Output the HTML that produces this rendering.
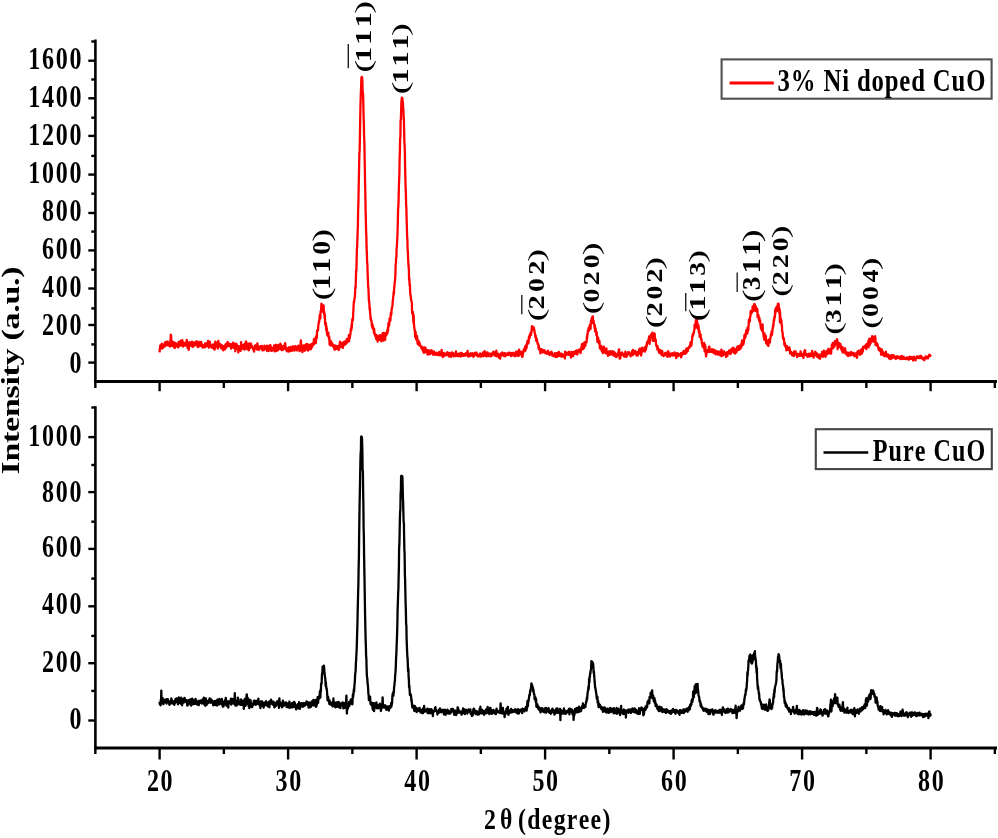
<!DOCTYPE html>
<html><head><meta charset="utf-8"><style>
html,body{margin:0;padding:0;background:#fff;}
svg{display:block;}
text{font-family:"Liberation Serif","Times New Roman",serif;font-weight:bold;font-kerning:none;}
</style></head><body>
<svg width="998" height="838" viewBox="0 0 998 838">
<rect width="998" height="838" fill="#fff"/>
<path d="M159.6,352.4 159.8,348.6 160.1,348.3 160.3,345.4 160.6,346.3 160.8,346.3 161.1,348.0 161.3,346.4 161.6,347.6 161.8,343.6 162.1,348.7 162.3,346.5 162.6,347.6 162.8,346.6 163.1,346.2 163.3,347.4 163.6,347.5 163.8,344.6 164.1,345.1 164.3,346.3 164.6,344.3 164.8,342.9 165.1,346.2 165.3,344.9 165.6,341.8 165.8,342.9 166.1,344.4 166.3,344.4 166.6,344.2 166.8,344.9 167.1,345.3 167.3,342.3 167.6,341.5 167.8,343.0 168.1,344.7 168.3,343.0 168.6,344.3 168.8,345.7 169.1,343.1 169.3,342.6 169.6,344.5 169.8,344.6 170.1,346.7 170.3,341.2 170.6,338.4 170.8,334.6 171.1,335.5 171.3,341.8 171.6,341.9 171.8,340.8 172.1,345.7 172.3,344.9 172.6,344.9 172.8,344.6 173.1,346.3 173.3,342.1 173.6,344.8 173.8,344.8 174.1,342.4 174.3,347.3 174.6,347.9 174.8,348.0 175.1,344.6 175.3,343.4 175.6,344.3 175.8,343.1 176.1,345.3 176.3,344.4 176.6,345.6 176.8,344.5 177.1,346.7 177.3,345.4 177.6,344.4 177.8,345.3 178.1,347.0 178.3,347.4 178.6,341.9 178.8,346.5 179.1,345.6 179.3,344.3 179.6,341.9 179.8,345.6 180.1,341.5 180.3,343.7 180.6,344.8 180.8,340.7 181.1,342.9 181.3,341.2 181.6,343.6 181.8,345.3 182.1,345.8 182.3,340.2 182.6,342.4 182.8,345.1 183.1,346.5 183.3,345.0 183.6,342.7 183.8,344.6 184.1,344.4 184.3,343.9 184.6,343.4 184.8,345.3 185.1,345.5 185.3,344.8 185.6,344.2 185.8,342.4 186.1,342.7 186.3,344.6 186.6,342.1 186.8,339.9 187.1,345.5 187.3,344.4 187.6,348.1 187.8,344.4 188.1,342.7 188.3,342.6 188.6,347.8 188.8,349.8 189.1,343.8 189.3,343.8 189.6,345.4 189.8,342.2 190.1,343.1 190.3,342.7 190.6,343.4 190.8,345.3 191.1,343.7 191.3,346.0 191.6,344.3 191.8,345.8 192.1,341.7 192.3,342.2 192.6,346.9 192.8,344.4 193.1,345.3 193.3,345.4 193.6,346.4 193.8,345.9 194.1,345.5 194.3,343.4 194.6,342.4 194.8,342.8 195.1,343.7 195.3,342.9 195.6,343.9 195.8,344.3 196.1,345.1 196.3,343.4 196.6,341.2 196.8,344.0 197.1,344.6 197.3,346.3 197.6,345.8 197.8,342.7 198.1,342.6 198.3,347.2 198.6,344.9 198.8,345.9 199.1,345.8 199.3,342.0 199.6,344.6 199.8,344.7 200.1,344.8 200.3,345.9 200.6,345.8 200.8,345.4 201.1,341.8 201.3,344.1 201.6,343.6 201.8,345.1 202.1,344.7 202.3,347.0 202.6,347.6 202.8,347.0 203.1,347.1 203.3,346.1 203.6,345.4 203.8,345.6 204.1,345.4 204.3,346.5 204.6,345.8 204.8,347.3 205.1,343.4 205.3,346.7 205.6,344.4 205.8,346.5 206.1,346.3 206.3,344.4 206.6,346.0 206.8,344.6 207.1,343.4 207.3,342.6 207.6,345.5 207.8,343.3 208.1,340.9 208.3,343.4 208.6,341.6 208.8,347.8 209.1,341.9 209.3,345.2 209.6,345.7 209.8,341.7 210.1,343.7 210.3,345.5 210.6,345.4 210.8,345.0 211.1,346.7 211.3,346.3 211.6,347.5 211.8,346.1 212.1,347.4 212.3,345.5 212.6,347.8 212.8,345.3 213.1,344.4 213.3,345.7 213.6,347.7 213.8,346.9 214.1,345.5 214.3,349.5 214.6,349.5 214.8,348.0 215.1,345.4 215.3,341.6 215.6,345.9 215.8,343.8 216.1,344.6 216.3,342.7 216.6,342.7 216.8,343.8 217.1,346.1 217.3,347.5 217.6,345.6 217.8,348.6 218.1,345.4 218.3,340.9 218.6,344.8 218.8,345.5 219.1,343.9 219.3,345.8 219.6,346.5 219.8,345.3 220.1,344.0 220.3,345.9 220.6,345.8 220.8,345.1 221.1,347.5 221.3,348.4 221.6,345.0 221.8,347.3 222.1,347.4 222.3,347.0 222.6,347.9 222.8,346.1 223.1,348.2 223.3,350.3 223.6,348.8 223.8,346.2 224.1,347.6 224.3,347.6 224.6,347.6 224.8,346.1 225.1,349.3 225.3,344.7 225.6,347.5 225.8,346.4 226.1,344.0 226.3,347.7 226.6,346.6 226.8,343.9 227.1,345.9 227.3,343.6 227.6,342.0 227.8,343.6 228.1,345.1 228.3,345.9 228.6,343.3 228.8,346.0 229.1,345.8 229.3,344.0 229.6,346.2 229.8,344.9 230.1,345.2 230.3,346.2 230.6,343.9 230.8,345.3 231.1,348.7 231.3,346.6 231.6,345.5 231.8,346.4 232.1,345.3 232.3,345.9 232.6,343.9 232.8,345.4 233.1,342.6 233.3,347.8 233.6,344.7 233.8,343.6 234.1,346.2 234.3,345.8 234.6,346.4 234.8,344.9 235.1,346.4 235.3,351.3 235.6,343.6 235.8,346.5 236.1,346.0 236.3,346.9 236.6,344.2 236.8,344.8 237.1,347.8 237.3,346.8 237.6,349.2 237.8,346.0 238.1,347.4 238.3,352.5 238.6,346.1 238.8,346.3 239.1,348.1 239.3,347.4 239.6,349.2 239.8,347.5 240.1,346.7 240.3,347.4 240.6,350.8 240.8,348.8 241.1,342.1 241.3,346.6 241.6,345.1 241.8,347.1 242.1,345.4 242.3,348.6 242.6,347.5 242.8,346.8 243.1,345.2 243.3,346.0 243.6,347.1 243.8,349.1 244.1,344.4 244.3,346.7 244.6,349.7 244.8,347.0 245.1,346.2 245.3,343.5 245.6,342.8 245.8,342.6 246.1,341.4 246.3,347.8 246.6,348.2 246.8,347.3 247.1,349.1 247.3,348.0 247.6,347.7 247.8,343.7 248.1,346.8 248.3,347.7 248.6,349.9 248.8,350.2 249.1,350.0 249.3,345.7 249.6,343.5 249.8,347.5 250.1,346.4 250.3,347.9 250.6,346.0 250.8,346.5 251.1,343.7 251.3,347.0 251.6,345.7 251.8,347.1 252.1,346.9 252.3,346.1 252.6,347.4 252.8,347.4 253.1,349.5 253.3,349.5 253.6,348.5 253.8,348.2 254.1,351.6 254.3,348.4 254.6,349.5 254.8,348.4 255.1,345.9 255.3,345.3 255.6,346.7 255.8,347.4 256.1,348.3 256.4,345.6 256.6,346.4 256.9,347.7 257.1,349.7 257.4,343.4 257.6,347.1 257.9,345.3 258.1,347.4 258.4,346.4 258.6,348.0 258.9,349.8 259.1,347.9 259.4,348.6 259.6,349.0 259.9,347.0 260.1,348.4 260.4,347.3 260.6,346.2 260.9,346.5 261.1,346.4 261.4,347.7 261.6,346.8 261.9,345.9 262.1,349.5 262.4,350.0 262.6,350.4 262.9,349.8 263.1,348.5 263.4,348.4 263.6,348.4 263.9,350.1 264.1,348.7 264.4,345.7 264.6,348.3 264.9,346.8 265.1,348.8 265.4,346.5 265.6,346.5 265.9,348.9 266.1,348.9 266.4,346.6 266.6,349.4 266.9,350.8 267.1,345.6 267.4,350.6 267.6,346.9 267.9,347.3 268.1,348.6 268.4,347.0 268.6,351.1 268.9,349.5 269.1,347.3 269.4,347.7 269.6,345.4 269.9,347.3 270.1,349.0 270.4,345.1 270.6,346.7 270.9,348.4 271.1,350.4 271.4,350.9 271.6,347.8 271.9,347.7 272.1,349.4 272.4,347.9 272.6,347.9 272.9,349.9 273.1,350.5 273.4,348.6 273.6,348.4 273.9,349.8 274.1,345.4 274.4,347.9 274.6,346.7 274.9,351.5 275.1,349.2 275.4,348.0 275.6,348.0 275.9,345.0 276.1,350.0 276.4,350.8 276.6,344.9 276.9,349.1 277.1,349.2 277.4,346.1 277.6,349.0 277.9,350.3 278.1,348.2 278.4,347.6 278.6,348.7 278.9,344.8 279.1,347.5 279.4,348.6 279.6,345.6 279.9,349.0 280.1,346.6 280.4,343.7 280.6,346.2 280.9,344.8 281.1,346.6 281.4,345.9 281.6,350.2 281.9,348.3 282.1,350.1 282.4,348.7 282.6,348.9 282.9,349.9 283.1,348.4 283.4,347.7 283.6,346.0 283.9,348.9 284.1,348.6 284.4,346.7 284.6,347.6 284.9,343.9 285.1,343.1 285.4,345.7 285.6,348.5 285.9,349.5 286.1,347.7 286.4,350.6 286.6,350.8 286.9,349.6 287.1,351.4 287.4,349.1 287.6,349.3 287.9,349.9 288.1,348.7 288.4,350.2 288.6,347.3 288.9,351.6 289.1,349.0 289.4,349.5 289.6,347.6 289.9,350.4 290.1,351.1 290.4,350.2 290.6,350.1 290.9,346.8 291.1,348.5 291.4,348.6 291.6,347.9 291.9,350.9 292.1,348.8 292.4,348.3 292.6,348.4 292.9,346.4 293.1,347.0 293.4,347.4 293.6,349.3 293.9,349.0 294.1,349.6 294.4,350.6 294.6,346.3 294.9,347.5 295.1,349.8 295.4,346.1 295.6,347.6 295.9,349.0 296.1,349.2 296.4,349.2 296.6,348.0 296.9,347.6 297.1,350.5 297.4,346.7 297.6,347.4 297.9,348.5 298.1,345.9 298.4,345.7 298.6,346.8 298.9,348.5 299.1,348.2 299.4,347.6 299.6,351.1 299.9,350.6 300.1,348.6 300.4,346.5 300.6,343.2 300.9,340.5 301.1,343.9 301.4,347.0 301.6,348.9 301.9,348.4 302.1,350.0 302.4,352.2 302.6,348.5 302.9,350.6 303.1,348.4 303.4,345.5 303.6,347.2 303.9,346.2 304.1,349.3 304.4,346.6 304.6,350.8 304.9,350.0 305.1,345.2 305.4,348.7 305.6,350.0 305.9,346.1 306.1,347.8 306.4,344.0 306.6,347.6 306.9,345.4 307.1,348.8 307.4,345.0 307.6,344.1 307.9,348.1 308.1,350.6 308.4,345.5 308.6,347.4 308.9,346.8 309.1,345.7 309.4,347.6 309.6,349.4 309.9,344.8 310.1,347.7 310.4,346.7 310.6,344.5 310.9,348.9 311.1,349.0 311.4,344.5 311.6,347.9 311.9,344.7 312.1,343.6 312.4,346.3 312.6,344.2 312.9,343.1 313.1,344.9 313.4,344.8 313.6,344.1 313.9,339.4 314.1,338.9 314.4,343.9 314.6,340.6 314.9,341.5 315.1,339.1 315.4,340.3 315.6,337.9 315.9,343.0 316.1,336.3 316.4,337.3 316.6,335.4 316.9,337.9 317.1,330.4 317.4,331.2 317.6,330.3 317.9,330.5 318.1,328.8 318.4,324.3 318.6,324.2 318.9,321.4 319.1,322.3 319.4,319.5 319.6,317.0 319.9,314.7 320.1,315.0 320.4,318.4 320.6,311.2 320.9,311.9 321.1,311.3 321.4,303.7 321.6,303.9 321.9,305.7 322.1,305.1 322.4,310.6 322.6,308.7 322.9,311.8 323.1,308.3 323.4,305.4 323.6,305.5 323.9,312.9 324.1,314.0 324.4,312.2 324.6,318.0 324.9,315.0 325.1,323.0 325.4,324.9 325.6,322.8 325.9,323.2 326.1,329.3 326.4,326.1 326.6,331.5 326.9,328.7 327.1,334.8 327.4,333.7 327.6,333.9 327.9,333.4 328.1,336.1 328.4,332.7 328.6,336.7 328.9,337.2 329.1,339.6 329.4,337.2 329.6,344.7 329.9,342.7 330.1,340.7 330.4,344.5 330.6,345.4 330.9,341.9 331.1,341.3 331.4,343.5 331.6,342.5 331.9,342.9 332.1,345.6 332.4,344.3 332.6,344.1 332.9,345.5 333.1,345.3 333.4,346.9 333.6,347.5 333.9,345.4 334.1,346.5 334.4,349.5 334.6,346.3 334.9,345.6 335.1,349.5 335.4,347.3 335.6,345.7 335.9,348.8 336.1,345.9 336.4,346.7 336.6,347.7 336.9,348.2 337.1,348.8 337.4,347.7 337.6,346.2 337.9,348.8 338.1,346.1 338.4,346.5 338.6,350.1 338.9,346.3 339.1,349.1 339.4,347.9 339.6,345.1 339.9,341.7 340.1,344.3 340.4,344.8 340.6,346.0 340.9,345.2 341.1,346.3 341.4,346.6 341.6,342.8 341.9,347.1 342.1,345.5 342.4,344.3 342.6,344.8 342.9,347.9 343.1,346.4 343.4,342.2 343.6,345.1 343.9,344.5 344.1,344.7 344.4,343.7 344.6,341.6 344.9,344.8 345.1,341.6 345.4,342.4 345.6,341.6 345.9,341.3 346.1,343.7 346.4,343.0 346.6,340.1 346.9,338.8 347.1,339.0 347.4,342.3 347.6,340.9 347.9,341.1 348.1,340.7 348.4,340.5 348.6,340.8 348.9,335.1 349.1,341.3 349.4,335.4 349.6,334.9 349.9,337.8 350.1,335.0 350.4,334.2 350.6,331.9 350.9,328.6 351.1,330.3 351.4,329.8 351.6,324.2 351.9,327.5 352.1,321.5 352.4,319.0 352.6,321.0 352.9,320.1 353.1,316.2 353.4,309.7 353.6,305.9 353.9,301.2 354.1,302.2 354.4,299.6 354.6,298.4 354.9,296.4 355.1,292.7 355.4,286.6 355.6,288.5 355.9,278.4 356.1,270.6 356.4,270.9 356.6,261.8 356.9,249.0 357.1,247.7 357.4,238.6 357.6,233.6 357.9,224.7 358.1,212.0 358.4,202.6 358.6,191.9 358.9,176.8 359.1,167.4 359.4,152.7 359.6,151.8 359.9,138.2 360.1,124.1 360.4,109.3 360.6,101.0 360.9,91.9 361.1,87.3 361.4,77.5 361.6,77.7 361.9,76.9 362.1,77.5 362.4,82.2 362.6,89.9 362.9,93.5 363.1,95.0 363.4,106.6 363.6,116.8 363.9,126.8 364.1,136.5 364.4,143.0 364.6,156.5 364.9,172.0 365.1,184.3 365.4,197.0 365.6,209.8 365.9,222.5 366.1,230.6 366.4,237.6 366.6,247.9 366.9,253.9 367.1,262.2 367.4,264.9 367.6,272.4 367.9,279.6 368.1,286.5 368.4,288.3 368.6,292.3 368.9,301.0 369.1,300.8 369.4,304.0 369.6,309.7 369.9,308.0 370.1,313.2 370.4,315.3 370.6,319.3 370.9,318.3 371.1,320.1 371.4,321.2 371.6,321.1 371.9,326.5 372.1,326.0 372.4,324.2 372.6,328.1 372.9,326.2 373.1,327.3 373.4,329.9 373.6,328.5 373.9,333.0 374.1,328.8 374.4,331.4 374.6,332.8 374.9,335.2 375.1,335.8 375.4,335.0 375.6,335.1 375.9,336.1 376.1,339.0 376.4,335.0 376.6,337.5 376.9,336.3 377.1,337.2 377.4,336.2 377.6,341.7 377.9,337.2 378.1,338.6 378.4,338.5 378.6,339.4 378.9,339.1 379.1,338.5 379.4,339.9 379.6,335.2 379.9,337.7 380.1,335.9 380.4,338.8 380.6,336.1 380.9,335.5 381.1,338.1 381.4,341.3 381.6,339.5 381.9,338.5 382.1,340.3 382.4,335.8 382.6,333.1 382.9,336.9 383.1,336.6 383.4,339.1 383.6,340.7 383.9,332.9 384.1,340.2 384.4,338.2 384.6,336.9 384.9,336.3 385.1,339.9 385.4,335.9 385.6,335.0 385.9,335.7 386.1,333.0 386.4,335.1 386.6,334.2 386.9,334.0 387.1,333.7 387.4,330.0 387.6,332.8 387.9,327.7 388.1,330.5 388.4,323.2 388.6,325.5 388.9,324.3 389.1,325.7 389.4,322.2 389.6,318.4 389.9,319.1 390.1,320.3 390.4,320.7 390.6,315.9 390.9,312.8 391.1,315.2 391.4,313.4 391.6,309.6 391.9,308.4 392.1,307.2 392.4,306.5 392.6,303.6 392.9,299.5 393.1,298.5 393.4,295.5 393.6,292.0 393.9,294.3 394.1,289.2 394.4,286.1 394.6,283.6 394.9,281.2 395.1,279.4 395.4,274.0 395.6,265.3 395.9,263.8 396.1,258.1 396.4,257.3 396.6,248.8 396.9,245.9 397.1,242.2 397.4,235.7 397.6,230.8 397.9,218.3 398.1,209.8 398.4,205.7 398.6,199.9 398.9,186.0 399.1,181.0 399.4,174.0 399.6,158.6 399.9,151.2 400.1,138.4 400.4,137.3 400.6,120.6 400.9,119.5 401.1,111.6 401.4,102.6 401.6,99.7 401.9,97.6 402.1,98.1 402.4,98.1 402.6,101.5 402.9,102.1 403.1,107.0 403.4,110.2 403.6,116.5 403.9,120.3 404.1,130.1 404.4,143.0 404.6,144.3 404.9,154.2 405.1,167.2 405.4,179.3 405.6,186.7 405.9,193.6 406.1,204.3 406.4,208.5 406.6,218.4 406.9,228.3 407.1,236.1 407.4,240.0 407.6,249.1 407.9,252.4 408.1,258.4 408.4,264.2 408.6,266.6 408.9,269.3 409.1,280.0 409.4,278.5 409.6,285.4 409.9,284.3 410.1,290.3 410.4,295.3 410.6,294.9 410.9,298.0 411.1,299.9 411.4,301.1 411.6,301.3 411.9,303.4 412.1,313.4 412.4,313.2 412.6,313.6 412.9,311.8 413.1,315.3 413.4,322.8 413.6,315.0 413.9,322.5 414.1,325.8 414.4,328.0 414.6,330.5 414.9,330.3 415.1,337.0 415.4,331.3 415.6,332.3 415.9,335.4 416.1,339.4 416.4,336.1 416.6,338.2 416.9,337.1 417.1,336.1 417.4,342.3 417.6,343.1 417.9,344.2 418.1,341.9 418.4,340.6 418.6,341.3 418.9,343.5 419.1,345.2 419.4,345.4 419.6,342.7 419.9,345.7 420.1,345.5 420.4,345.6 420.6,346.3 420.9,346.2 421.1,347.7 421.4,347.7 421.6,348.5 421.9,347.8 422.1,349.2 422.4,349.6 422.6,347.0 422.9,351.0 423.1,350.7 423.4,352.1 423.6,351.7 423.9,352.0 424.1,352.9 424.4,351.7 424.6,350.0 424.9,347.4 425.1,352.2 425.4,347.7 425.6,349.8 425.9,351.5 426.1,350.8 426.4,351.3 426.6,351.5 426.9,351.9 427.1,350.9 427.4,354.4 427.6,349.9 427.9,352.0 428.1,351.5 428.4,352.0 428.6,352.9 428.9,354.3 429.1,350.9 429.4,350.5 429.6,352.5 429.9,352.1 430.1,354.2 430.4,353.1 430.6,352.1 430.9,351.9 431.1,352.8 431.4,351.9 431.6,350.2 431.9,352.5 432.1,352.4 432.4,352.4 432.6,352.0 432.9,354.7 433.1,353.6 433.4,353.9 433.6,352.0 433.9,351.4 434.1,352.4 434.4,353.4 434.6,353.4 434.9,353.2 435.1,354.8 435.4,354.6 435.6,353.0 435.9,353.8 436.1,352.6 436.4,354.1 436.6,352.8 436.9,353.7 437.1,354.8 437.4,354.0 437.6,353.4 437.9,353.7 438.1,354.5 438.4,354.9 438.6,355.2 438.9,353.9 439.1,352.0 439.4,355.0 439.6,353.9 439.9,353.9 440.1,354.7 440.4,353.0 440.6,354.4 440.9,354.9 441.1,355.5 441.4,354.4 441.6,349.9 441.9,353.1 442.1,354.4 442.4,355.6 442.6,355.3 442.9,357.1 443.1,356.2 443.4,356.5 443.6,355.5 443.9,352.9 444.1,355.1 444.4,355.2 444.6,354.1 444.9,355.5 445.1,355.1 445.4,353.7 445.6,354.1 445.9,354.0 446.1,354.5 446.4,353.7 446.6,355.0 446.9,353.2 447.1,355.1 447.4,352.2 447.6,352.7 447.9,354.6 448.1,355.2 448.4,354.2 448.6,354.3 448.9,356.4 449.1,353.1 449.4,355.5 449.6,353.0 449.9,354.9 450.1,356.0 450.4,354.8 450.6,356.4 450.9,356.9 451.1,354.7 451.4,355.5 451.6,354.6 451.9,352.3 452.1,353.9 452.4,353.0 452.6,355.2 452.9,353.0 453.1,355.9 453.4,353.5 453.6,356.3 453.9,355.0 454.1,354.8 454.4,354.9 454.6,355.0 454.9,355.9 455.1,356.1 455.4,353.8 455.6,353.0 455.9,351.5 456.1,354.5 456.4,355.8 456.6,355.7 456.9,355.7 457.1,355.1 457.4,355.1 457.6,355.6 457.9,356.2 458.1,353.6 458.4,356.1 458.6,353.8 458.9,355.4 459.1,355.2 459.4,355.4 459.6,354.6 459.9,354.0 460.1,354.6 460.4,353.0 460.6,356.7 460.9,353.9 461.1,353.4 461.4,354.0 461.6,353.7 461.9,353.0 462.1,355.3 462.4,355.8 462.6,354.0 462.9,355.8 463.1,354.3 463.4,355.1 463.6,355.1 463.9,355.5 464.1,355.3 464.4,353.8 464.6,355.7 464.9,354.3 465.1,355.7 465.4,355.6 465.6,354.8 465.9,353.5 466.1,355.1 466.4,353.0 466.6,353.0 466.9,352.8 467.1,354.2 467.4,353.3 467.6,350.8 467.9,354.6 468.1,356.5 468.4,356.6 468.6,354.3 468.9,354.9 469.1,355.6 469.4,356.3 469.6,355.1 469.9,353.8 470.1,355.8 470.4,355.3 470.6,353.2 470.9,354.0 471.1,354.8 471.4,354.8 471.6,355.5 471.9,355.3 472.1,354.9 472.4,354.2 472.6,353.1 472.9,353.9 473.1,355.5 473.4,356.8 473.6,354.8 473.9,354.3 474.1,355.5 474.4,355.5 474.6,354.0 474.9,354.2 475.1,352.6 475.4,354.3 475.6,353.1 475.9,353.8 476.1,354.5 476.4,354.4 476.6,352.7 476.9,354.4 477.1,355.9 477.4,355.8 477.6,355.2 477.9,356.3 478.1,356.1 478.4,356.3 478.6,354.8 478.9,356.0 479.1,355.6 479.4,354.6 479.6,353.8 479.9,355.3 480.1,353.5 480.4,356.7 480.6,354.1 480.9,354.0 481.1,354.0 481.4,356.7 481.6,354.5 481.9,354.9 482.1,354.3 482.4,354.7 482.6,354.6 482.9,355.8 483.1,352.5 483.4,354.3 483.6,356.1 483.9,353.8 484.1,354.2 484.4,353.2 484.6,351.1 484.9,353.9 485.1,355.7 485.4,354.1 485.6,352.4 485.9,355.0 486.1,355.3 486.4,356.4 486.6,355.8 486.9,354.0 487.1,355.1 487.4,352.3 487.6,355.1 487.9,354.2 488.1,355.6 488.4,356.1 488.6,354.9 488.9,355.5 489.1,354.7 489.4,353.5 489.6,355.4 489.9,355.7 490.1,354.4 490.4,356.3 490.6,356.2 490.9,356.4 491.1,354.9 491.4,353.5 491.6,355.9 491.9,355.3 492.1,354.1 492.4,353.7 492.6,353.8 492.9,353.6 493.1,352.8 493.4,351.7 493.6,354.5 493.9,352.4 494.1,353.6 494.4,354.2 494.6,355.0 494.9,352.6 495.1,355.9 495.4,355.1 495.6,355.8 495.9,355.3 496.1,351.8 496.4,350.6 496.6,355.6 496.9,356.4 497.1,356.0 497.4,354.2 497.6,354.9 497.9,355.6 498.1,353.7 498.4,354.8 498.6,355.1 498.9,357.6 499.1,355.3 499.4,357.9 499.6,355.9 499.9,354.5 500.1,358.6 500.4,354.5 500.6,355.7 500.9,355.9 501.1,353.8 501.4,353.0 501.6,355.2 501.9,354.0 502.1,353.5 502.4,352.5 502.6,353.4 502.9,355.0 503.1,353.5 503.4,355.0 503.6,355.7 503.9,356.0 504.1,356.1 504.4,356.1 504.6,353.2 504.9,356.3 505.1,355.7 505.4,354.8 505.6,353.8 505.9,353.5 506.1,354.0 506.4,355.4 506.6,353.8 506.9,354.2 507.1,354.0 507.4,354.8 507.6,353.5 507.9,353.1 508.1,355.0 508.4,353.2 508.6,354.5 508.9,352.6 509.1,354.4 509.4,353.9 509.6,353.5 509.9,353.2 510.1,352.8 510.4,353.0 510.6,353.7 510.9,356.1 511.1,356.1 511.4,353.2 511.6,354.9 511.9,353.5 512.1,354.7 512.4,354.1 512.6,352.9 512.9,355.3 513.1,355.3 513.4,354.0 513.6,353.0 513.9,354.1 514.1,353.4 514.4,354.8 514.6,355.7 514.9,356.3 515.1,354.2 515.4,355.8 515.6,355.7 515.9,353.8 516.1,351.6 516.4,354.6 516.6,353.8 516.9,355.7 517.1,354.1 517.4,353.4 517.6,354.9 517.9,351.5 518.1,353.5 518.4,353.3 518.6,356.0 518.9,353.8 519.1,349.7 519.4,355.0 519.6,351.7 519.9,353.7 520.1,352.0 520.4,353.3 520.6,353.7 520.9,353.3 521.1,351.7 521.4,354.7 521.6,354.7 521.9,355.5 522.1,356.9 522.4,354.1 522.6,356.7 522.9,353.2 523.1,352.9 523.4,352.1 523.6,350.1 523.9,349.2 524.1,350.3 524.4,350.2 524.6,351.1 524.9,349.0 525.1,346.5 525.4,350.6 525.6,349.8 525.9,348.8 526.1,347.0 526.4,344.7 526.6,347.9 526.9,343.7 527.1,344.7 527.4,341.0 527.6,344.1 527.9,340.9 528.1,343.0 528.4,343.3 528.6,342.0 528.9,337.1 529.1,336.9 529.4,335.7 529.6,338.0 529.9,336.4 530.1,334.1 530.4,333.8 530.6,332.9 530.9,332.8 531.1,334.8 531.4,331.0 531.6,331.4 531.9,326.2 532.1,326.8 532.4,327.5 532.6,326.4 532.9,328.5 533.1,329.8 533.4,327.3 533.6,327.6 533.9,327.9 534.1,330.3 534.4,329.9 534.6,332.6 534.9,333.2 535.1,334.7 535.4,337.0 535.6,335.3 535.9,337.0 536.1,340.7 536.4,338.3 536.6,340.9 536.9,339.2 537.1,341.0 537.4,342.7 537.6,343.0 537.9,344.5 538.1,344.1 538.4,344.4 538.6,348.4 538.9,346.2 539.1,349.2 539.4,349.1 539.6,350.3 539.9,348.7 540.1,349.5 540.4,353.4 540.6,350.7 540.9,351.1 541.1,350.0 541.4,351.4 541.6,349.2 541.9,349.9 542.1,351.9 542.4,352.3 542.6,350.7 542.9,351.9 543.1,351.5 543.4,351.5 543.6,350.1 543.9,350.5 544.1,352.5 544.4,350.2 544.6,351.7 544.9,352.1 545.1,351.9 545.4,353.1 545.6,352.5 545.9,353.0 546.1,351.8 546.4,352.3 546.6,353.7 546.9,353.8 547.1,353.0 547.4,352.6 547.6,351.3 547.9,350.8 548.1,353.4 548.4,351.9 548.6,353.6 548.9,354.2 549.1,353.8 549.4,352.7 549.6,355.0 549.9,354.6 550.1,354.4 550.4,354.1 550.6,354.3 550.9,353.0 551.1,354.1 551.4,351.7 551.6,353.7 551.9,352.6 552.1,354.1 552.4,355.7 552.6,354.5 552.9,354.1 553.1,355.0 553.4,354.4 553.6,354.3 553.9,354.3 554.1,356.3 554.4,355.6 554.6,355.3 554.9,353.1 555.1,356.4 555.4,355.9 555.6,356.6 555.9,353.4 556.1,357.1 556.4,353.1 556.6,356.7 556.9,356.0 557.1,353.3 557.4,355.1 557.6,356.6 557.9,356.1 558.1,352.5 558.4,353.5 558.6,352.4 558.9,352.0 559.1,353.0 559.4,355.9 559.6,354.2 559.9,354.4 560.1,354.6 560.4,355.9 560.6,355.5 560.9,353.7 561.1,356.5 561.4,353.7 561.6,354.3 561.9,355.2 562.1,356.5 562.4,354.2 562.6,354.9 562.9,355.9 563.1,356.5 563.4,355.8 563.6,355.9 563.9,355.0 564.1,355.1 564.4,355.5 564.6,354.4 564.9,358.5 565.1,351.6 565.4,352.4 565.6,355.2 565.9,353.5 566.1,352.3 566.4,354.0 566.6,355.2 566.9,353.1 567.1,354.0 567.4,353.4 567.6,353.6 567.9,353.3 568.1,353.2 568.4,352.3 568.6,353.5 568.9,354.8 569.1,352.0 569.4,351.8 569.6,354.6 569.9,353.9 570.1,354.4 570.4,354.1 570.6,353.1 570.9,357.6 571.1,353.1 571.4,353.8 571.6,351.9 571.9,353.8 572.1,356.0 572.4,354.8 572.6,355.1 572.9,353.6 573.1,356.0 573.4,353.3 573.6,352.0 573.9,354.0 574.1,352.2 574.4,353.5 574.6,353.0 574.9,352.6 575.1,352.3 575.4,351.5 575.6,350.9 575.9,354.0 576.1,352.5 576.4,353.1 576.6,352.5 576.9,350.3 577.1,351.3 577.4,354.3 577.6,351.6 577.9,352.4 578.1,350.4 578.4,351.1 578.6,351.6 578.9,351.4 579.1,350.7 579.4,349.4 579.6,349.8 579.9,350.4 580.1,350.9 580.4,352.6 580.6,353.0 580.9,350.4 581.1,349.7 581.4,347.4 581.6,348.2 581.9,344.1 582.1,344.4 582.4,345.9 582.6,349.2 582.9,346.3 583.1,349.0 583.4,346.5 583.6,343.2 583.9,345.5 584.1,348.0 584.4,343.4 584.6,342.1 584.9,344.9 585.1,346.0 585.4,345.4 585.6,342.4 585.9,342.1 586.1,341.9 586.4,342.0 586.6,342.4 586.9,336.6 587.1,338.5 587.4,334.1 587.6,334.7 587.9,330.5 588.1,330.3 588.4,331.1 588.6,327.8 588.9,330.8 589.1,327.8 589.4,327.7 589.6,326.0 589.9,324.8 590.1,325.0 590.4,326.9 590.6,328.9 590.9,321.1 591.1,321.8 591.4,321.3 591.6,318.6 591.9,319.8 592.1,317.2 592.4,318.9 592.6,322.9 592.9,316.5 593.1,321.8 593.4,322.6 593.6,320.6 593.9,324.3 594.1,324.2 594.4,325.0 594.6,328.3 594.9,325.3 595.1,331.4 595.4,328.6 595.6,328.4 595.9,331.4 596.1,331.7 596.4,335.2 596.6,331.8 596.9,335.9 597.1,336.7 597.4,341.9 597.6,337.7 597.9,342.2 598.1,337.4 598.4,342.3 598.6,342.1 598.9,343.2 599.1,342.4 599.4,340.9 599.6,343.4 599.9,348.5 600.1,346.7 600.4,345.5 600.6,348.7 600.9,346.1 601.1,346.3 601.4,346.2 601.6,350.2 601.9,351.6 602.1,347.9 602.4,351.1 602.6,351.4 602.9,353.1 603.1,347.5 603.4,350.9 603.6,351.6 603.9,346.6 604.1,347.7 604.4,349.4 604.6,352.0 604.9,350.8 605.1,352.1 605.4,351.3 605.6,353.4 605.9,353.0 606.1,351.0 606.4,348.5 606.6,352.1 606.9,352.6 607.1,353.2 607.4,352.6 607.6,353.0 607.9,355.8 608.1,353.5 608.4,351.3 608.6,352.9 608.9,353.2 609.1,353.0 609.4,352.0 609.6,354.9 609.9,354.5 610.1,353.2 610.4,351.2 610.6,352.5 610.9,352.8 611.1,354.1 611.4,352.8 611.6,354.6 611.9,354.0 612.1,353.4 612.4,351.2 612.6,353.4 612.9,353.1 613.1,354.7 613.4,354.8 613.6,355.5 613.9,353.4 614.1,351.9 614.4,355.8 614.6,354.0 614.9,353.8 615.1,354.1 615.4,353.3 615.6,355.9 615.9,355.7 616.1,357.1 616.4,356.4 616.6,356.1 616.9,356.5 617.1,354.6 617.4,354.6 617.6,354.8 617.9,353.2 618.1,354.1 618.4,352.4 618.6,351.8 618.9,349.4 619.1,349.5 619.4,354.0 619.6,358.7 619.9,356.3 620.1,358.5 620.4,358.0 620.6,354.9 620.9,354.0 621.1,354.5 621.4,353.0 621.6,354.5 621.9,354.4 622.1,352.5 622.4,353.9 622.6,354.9 622.9,353.5 623.1,354.9 623.4,355.6 623.6,354.7 623.9,356.3 624.1,355.8 624.4,353.9 624.6,355.4 624.9,356.6 625.1,354.6 625.4,351.6 625.6,354.6 625.9,356.1 626.1,354.9 626.4,356.6 626.6,356.7 626.9,354.4 627.1,354.9 627.4,353.6 627.6,354.8 627.9,353.2 628.1,352.2 628.4,353.1 628.6,353.1 628.9,353.4 629.1,354.2 629.4,352.5 629.6,353.4 629.9,354.3 630.1,354.3 630.4,354.1 630.6,356.4 630.9,354.4 631.1,353.4 631.4,354.6 631.6,355.2 631.9,353.4 632.1,351.0 632.4,353.4 632.6,352.8 632.9,355.0 633.1,349.8 633.4,354.2 633.6,352.0 633.9,353.0 634.1,352.0 634.4,352.8 634.6,353.6 634.9,352.4 635.1,350.8 635.4,353.6 635.6,353.6 635.9,353.8 636.1,353.9 636.4,354.1 636.6,355.7 636.9,352.8 637.1,352.0 637.4,353.7 637.6,355.4 637.9,354.8 638.1,354.8 638.4,354.4 638.6,351.5 638.9,352.7 639.1,349.3 639.4,349.9 639.6,349.8 639.9,348.7 640.1,350.3 640.4,351.0 640.6,352.7 640.9,353.5 641.1,355.5 641.4,353.8 641.6,349.7 641.9,348.0 642.1,350.9 642.4,351.6 642.6,347.7 642.9,348.8 643.1,348.7 643.4,349.9 643.6,349.1 643.9,350.0 644.1,350.6 644.4,351.1 644.6,350.3 644.9,351.6 645.1,347.0 645.4,346.7 645.6,348.7 645.9,350.0 646.1,346.7 646.4,347.4 646.6,344.1 646.9,345.4 647.1,342.0 647.4,343.0 647.6,342.0 647.9,341.1 648.1,342.7 648.4,342.0 648.6,338.8 648.9,341.5 649.1,336.4 649.4,341.2 649.6,343.9 649.9,339.5 650.1,338.3 650.4,336.9 650.6,336.8 650.9,334.8 651.1,337.2 651.4,334.4 651.6,333.7 651.9,335.1 652.1,335.6 652.4,332.6 652.6,340.8 652.9,337.8 653.1,335.3 653.4,340.9 653.6,339.1 653.9,339.1 654.1,339.5 654.4,337.0 654.6,333.4 654.9,338.9 655.1,340.0 655.4,341.6 655.6,339.1 655.9,341.7 656.1,344.8 656.4,345.7 656.6,345.9 656.9,347.3 657.1,345.6 657.4,349.7 657.6,346.4 657.9,348.1 658.1,348.0 658.4,348.5 658.6,350.7 658.9,351.6 659.1,352.8 659.4,351.6 659.6,350.7 659.9,352.8 660.1,350.2 660.4,352.9 660.6,353.4 660.9,353.8 661.1,351.8 661.4,351.0 661.6,355.0 661.9,352.0 662.1,351.0 662.4,351.9 662.6,353.5 662.9,354.9 663.1,354.5 663.4,356.1 663.6,355.2 663.9,355.1 664.1,355.7 664.4,354.6 664.6,354.4 664.9,353.5 665.1,352.9 665.4,354.5 665.6,353.0 665.9,353.8 666.1,353.3 666.4,354.5 666.6,354.1 666.9,356.4 667.1,355.7 667.4,355.6 667.6,356.8 667.9,351.4 668.1,353.6 668.4,351.3 668.6,353.6 668.9,353.7 669.1,355.1 669.4,355.3 669.6,353.7 669.9,356.6 670.1,354.9 670.4,355.0 670.6,353.7 670.9,355.4 671.1,354.3 671.4,354.5 671.6,355.1 671.9,354.2 672.1,353.1 672.4,355.6 672.6,353.7 672.9,353.4 673.1,355.1 673.4,355.4 673.6,355.2 673.9,354.3 674.1,354.2 674.4,353.6 674.6,352.4 674.9,355.4 675.1,353.6 675.4,354.7 675.6,355.6 675.9,354.8 676.1,358.1 676.4,353.3 676.6,353.9 676.9,354.9 677.1,356.3 677.4,354.4 677.6,353.2 677.9,356.3 678.1,354.0 678.4,354.4 678.6,355.7 678.9,354.2 679.1,354.2 679.4,355.4 679.6,354.3 679.9,355.4 680.1,354.2 680.4,355.4 680.6,354.4 680.9,353.2 681.1,357.4 681.4,355.8 681.6,355.9 681.9,353.3 682.1,354.9 682.4,354.3 682.6,352.4 682.9,354.2 683.1,352.7 683.4,352.9 683.6,351.0 683.9,353.9 684.1,353.2 684.4,353.0 684.6,351.5 684.9,352.2 685.1,353.8 685.4,351.5 685.6,352.6 685.9,351.8 686.1,349.5 686.4,353.0 686.6,348.4 686.9,351.1 687.1,350.4 687.4,348.8 687.6,351.4 687.9,350.6 688.1,349.2 688.4,347.6 688.6,348.2 688.9,348.2 689.1,346.6 689.4,347.9 689.6,346.4 689.9,345.9 690.1,346.6 690.4,342.7 690.6,342.1 690.9,344.4 691.1,344.7 691.4,345.6 691.6,344.0 691.9,340.7 692.1,339.0 692.4,337.0 692.6,334.7 692.9,333.9 693.1,335.7 693.4,333.2 693.6,333.2 693.9,332.9 694.1,330.4 694.4,330.0 694.6,324.7 694.9,327.7 695.1,325.2 695.4,324.5 695.6,323.6 695.9,320.1 696.1,327.7 696.4,323.1 696.6,323.2 696.9,319.4 697.1,324.4 697.4,324.0 697.6,323.4 697.9,326.2 698.1,329.2 698.4,326.9 698.6,325.7 698.9,332.4 699.1,330.4 699.4,330.8 699.6,336.9 699.9,333.0 700.1,333.8 700.4,334.6 700.6,335.0 700.9,337.6 701.1,339.3 701.4,338.9 701.6,340.8 701.9,343.2 702.1,343.6 702.4,345.4 702.6,346.4 702.9,346.3 703.1,346.9 703.4,345.5 703.6,346.2 703.9,348.0 704.1,342.8 704.4,346.8 704.6,351.4 704.9,344.6 705.1,350.4 705.4,346.2 705.6,350.7 705.9,354.3 706.1,356.3 706.4,353.9 706.6,352.2 706.9,350.2 707.1,351.5 707.4,350.3 707.6,350.5 707.9,350.8 708.1,350.7 708.4,351.9 708.6,350.0 708.9,347.0 709.1,351.7 709.4,346.6 709.6,352.1 709.9,349.4 710.1,350.2 710.4,350.7 710.6,350.3 710.9,350.3 711.1,349.9 711.4,349.4 711.6,351.8 711.9,349.4 712.1,352.2 712.4,350.3 712.6,349.5 712.9,351.0 713.1,351.9 713.4,349.4 713.6,350.8 713.9,353.4 714.1,351.2 714.4,351.5 714.6,353.1 714.9,351.6 715.1,350.5 715.4,351.8 715.6,353.8 715.9,354.2 716.1,354.0 716.4,354.0 716.6,351.1 716.9,353.1 717.1,354.0 717.4,352.0 717.6,354.5 717.9,352.9 718.1,353.8 718.4,353.7 718.6,351.3 718.9,354.6 719.1,351.7 719.4,352.9 719.6,352.7 719.9,354.1 720.1,354.2 720.4,353.7 720.6,355.5 720.9,353.7 721.1,352.3 721.4,349.6 721.6,356.1 721.9,352.2 722.1,351.4 722.4,351.3 722.6,353.7 722.9,354.4 723.1,355.3 723.4,354.8 723.6,352.6 723.9,354.0 724.1,351.5 724.4,353.5 724.6,353.8 724.9,352.8 725.1,353.4 725.4,353.5 725.6,353.0 725.9,355.7 726.1,357.0 726.4,354.1 726.6,354.2 726.9,352.6 727.1,352.1 727.4,355.8 727.6,352.8 727.9,353.1 728.1,352.5 728.4,352.8 728.6,352.0 728.9,352.4 729.1,350.4 729.4,352.2 729.6,353.6 729.9,350.8 730.1,350.9 730.4,354.0 730.6,352.2 730.9,353.5 731.1,349.5 731.4,352.2 731.6,350.6 731.9,349.5 732.1,351.3 732.4,351.6 732.6,348.0 732.9,348.3 733.1,348.2 733.4,349.5 733.6,347.9 733.9,352.8 734.1,350.6 734.4,349.8 734.6,349.8 734.9,353.1 735.1,353.6 735.4,350.1 735.6,351.2 735.9,352.7 736.1,348.8 736.4,349.7 736.6,351.8 736.9,347.7 737.1,348.1 737.4,346.7 737.6,348.4 737.9,349.4 738.1,346.6 738.4,346.1 738.6,346.7 738.9,350.0 739.1,347.4 739.4,347.1 739.6,348.1 739.9,349.1 740.1,348.5 740.4,345.2 740.6,348.3 740.9,346.6 741.1,347.8 741.4,343.4 741.6,346.1 741.9,342.4 742.1,340.4 742.4,345.5 742.6,342.1 742.9,342.8 743.1,342.3 743.4,344.3 743.6,342.9 743.9,341.7 744.1,340.6 744.4,335.6 744.6,334.8 744.9,338.1 745.1,335.4 745.4,337.3 745.6,336.3 745.9,332.5 746.1,331.6 746.4,330.0 746.6,330.0 746.9,332.0 747.1,332.9 747.4,333.5 747.6,327.3 747.9,328.2 748.1,331.0 748.4,328.1 748.6,326.0 748.9,319.8 749.1,321.9 749.4,322.2 749.6,318.6 749.9,320.9 750.1,316.7 750.4,316.7 750.6,311.3 750.9,310.9 751.1,313.9 751.4,312.8 751.6,311.8 751.9,312.7 752.1,310.7 752.4,310.6 752.6,306.5 752.9,308.5 753.1,307.9 753.4,311.0 753.6,305.7 753.9,307.9 754.1,304.2 754.4,304.2 754.6,304.0 754.9,304.9 755.1,306.7 755.4,308.0 755.6,310.8 755.9,306.3 756.1,308.5 756.4,308.0 756.6,311.4 756.9,311.7 757.1,308.7 757.4,310.0 757.6,317.2 757.9,316.2 758.1,317.0 758.4,314.8 758.6,317.1 758.9,319.7 759.1,320.6 759.4,317.9 759.6,321.8 759.9,320.7 760.1,320.2 760.4,324.7 760.6,324.9 760.9,328.7 761.1,328.0 761.4,329.3 761.6,325.2 761.9,330.6 762.1,325.1 762.4,328.0 762.6,324.5 762.9,330.4 763.1,333.0 763.4,332.8 763.6,336.7 763.9,334.0 764.1,338.9 764.4,339.8 764.6,333.7 764.9,337.0 765.1,337.3 765.4,338.3 765.6,339.9 765.9,336.2 766.1,343.1 766.4,341.6 766.6,340.1 766.9,342.9 767.1,344.5 767.4,344.8 767.6,343.3 767.9,342.2 768.1,345.7 768.4,345.9 768.6,342.2 768.9,339.7 769.1,341.5 769.4,343.2 769.6,340.6 769.9,342.4 770.1,339.2 770.4,338.2 770.6,337.5 770.9,334.4 771.1,336.0 771.4,335.0 771.6,331.5 771.9,331.0 772.1,334.8 772.4,330.2 772.6,329.1 772.9,326.9 773.1,325.1 773.4,326.4 773.6,322.8 773.9,319.2 774.1,320.8 774.4,317.1 774.6,316.3 774.9,317.4 775.1,310.1 775.4,313.5 775.6,309.1 775.9,308.2 776.1,308.4 776.4,309.0 776.6,306.9 776.9,311.1 777.1,306.4 777.4,306.5 777.6,307.8 777.9,303.7 778.1,304.8 778.4,305.1 778.6,303.8 778.9,308.2 779.1,308.4 779.4,313.6 779.6,308.8 779.9,322.3 780.1,312.2 780.4,319.4 780.6,322.4 780.9,318.7 781.1,323.0 781.4,320.3 781.6,325.0 781.9,325.0 782.1,330.3 782.4,332.3 782.6,332.3 782.9,337.1 783.1,338.8 783.4,337.3 783.6,337.9 783.9,339.0 784.1,340.5 784.4,345.0 784.6,343.6 784.9,343.1 785.1,345.0 785.4,346.7 785.6,345.7 785.9,346.9 786.1,347.3 786.4,350.3 786.6,349.0 786.9,345.8 787.1,348.0 787.4,349.7 787.6,347.7 787.9,349.7 788.1,349.4 788.4,349.9 788.6,349.0 788.9,349.5 789.1,350.2 789.4,347.5 789.6,349.4 789.9,349.3 790.1,353.5 790.4,352.2 790.6,352.9 790.9,353.4 791.1,351.9 791.4,352.3 791.6,354.4 791.9,353.1 792.1,355.3 792.4,353.1 792.6,353.8 792.9,353.4 793.1,353.3 793.4,353.3 793.6,355.0 793.9,356.0 794.1,351.5 794.4,354.0 794.6,354.8 794.9,352.9 795.1,353.3 795.4,353.9 795.6,351.3 795.9,354.4 796.1,353.6 796.4,353.7 796.6,354.3 796.9,354.3 797.1,357.2 797.4,354.7 797.6,355.6 797.9,354.0 798.1,355.2 798.4,354.5 798.6,354.9 798.9,353.9 799.1,354.2 799.4,355.7 799.6,355.9 799.9,355.4 800.1,354.0 800.4,355.0 800.6,351.3 800.9,355.5 801.1,354.7 801.4,355.1 801.6,355.7 801.9,354.0 802.1,355.6 802.4,354.3 802.6,355.9 802.9,355.2 803.1,356.5 803.4,357.8 803.6,355.4 803.9,355.0 804.1,352.4 804.4,351.3 804.6,352.2 804.9,350.2 805.1,350.4 805.4,354.1 805.6,354.0 805.9,355.0 806.1,355.4 806.4,354.5 806.6,355.0 806.9,354.0 807.1,355.8 807.4,354.9 807.6,356.8 807.9,356.5 808.1,354.7 808.4,354.7 808.6,355.3 808.9,355.9 809.1,353.6 809.4,355.4 809.6,356.6 809.9,354.6 810.1,355.1 810.4,355.0 810.6,353.6 810.9,355.9 811.1,355.3 811.4,355.1 811.6,355.9 811.9,353.0 812.1,350.9 812.4,354.8 812.6,353.3 812.9,353.4 813.1,354.3 813.4,356.2 813.6,357.5 813.9,355.4 814.1,354.9 814.4,354.6 814.6,355.0 814.9,354.4 815.1,351.6 815.4,353.2 815.6,353.5 815.9,354.9 816.1,355.2 816.4,352.9 816.6,356.5 816.9,354.1 817.1,354.9 817.4,354.0 817.6,354.5 817.9,357.0 818.1,354.7 818.4,355.4 818.6,357.0 818.9,358.0 819.1,354.7 819.4,356.1 819.6,356.7 819.9,358.6 820.1,358.8 820.4,355.7 820.6,355.9 820.9,355.6 821.1,355.5 821.4,354.0 821.6,356.2 821.9,354.4 822.1,351.8 822.4,354.2 822.6,355.5 822.9,356.8 823.1,352.7 823.4,353.0 823.6,354.6 823.9,350.6 824.1,355.1 824.4,355.2 824.6,351.1 824.9,355.7 825.1,355.0 825.4,356.9 825.6,355.5 825.9,354.4 826.1,354.2 826.4,355.1 826.6,353.6 826.9,352.8 827.1,350.6 827.4,352.9 827.6,352.5 827.9,353.5 828.1,350.0 828.4,349.3 828.6,348.8 828.9,351.1 829.1,350.7 829.4,349.9 829.6,353.4 829.9,353.2 830.1,350.7 830.4,349.7 830.6,351.9 830.9,348.8 831.1,353.7 831.4,348.4 831.6,349.2 831.9,344.7 832.1,345.7 832.4,346.1 832.6,343.9 832.9,342.8 833.1,348.2 833.4,346.5 833.6,344.6 833.9,343.8 834.1,344.4 834.4,346.6 834.6,342.2 834.9,342.2 835.1,341.0 835.4,344.6 835.6,341.4 835.9,342.8 836.1,341.9 836.4,340.7 836.6,342.5 836.9,342.4 837.1,339.1 837.4,343.3 837.6,349.3 837.9,343.1 838.1,345.2 838.4,342.7 838.6,346.3 838.9,344.8 839.1,347.2 839.4,345.4 839.6,343.4 839.9,346.9 840.1,345.0 840.4,344.1 840.6,346.1 840.9,345.8 841.1,349.0 841.4,348.6 841.6,348.2 841.9,350.6 842.1,348.3 842.4,351.8 842.6,347.1 842.9,352.6 843.1,351.2 843.4,351.0 843.6,351.0 843.9,352.3 844.1,351.6 844.4,351.6 844.6,352.2 844.9,349.0 845.1,348.3 845.4,351.2 845.6,353.6 845.9,353.6 846.1,353.7 846.4,353.7 846.6,354.1 846.9,355.0 847.1,352.4 847.4,353.8 847.6,354.1 847.9,354.8 848.1,356.0 848.4,354.5 848.6,354.7 848.9,355.5 849.1,352.7 849.4,353.1 849.6,353.6 849.9,353.7 850.1,354.4 850.4,353.4 850.6,355.5 850.9,352.3 851.1,352.0 851.4,353.9 851.6,354.1 851.9,353.9 852.1,354.1 852.4,354.3 852.6,353.7 852.9,354.9 853.1,352.8 853.4,354.6 853.6,352.8 853.9,354.2 854.1,353.6 854.4,356.3 854.6,354.5 854.9,355.2 855.1,353.8 855.4,354.1 855.6,354.7 855.9,353.9 856.1,356.0 856.4,352.9 856.6,355.3 856.9,357.8 857.1,357.2 857.4,354.0 857.6,351.5 857.9,353.1 858.1,351.1 858.4,353.6 858.6,352.4 858.9,350.7 859.1,352.2 859.4,352.1 859.6,353.6 859.9,354.8 860.1,353.0 860.4,351.9 860.6,351.8 860.9,352.9 861.1,349.6 861.4,353.9 861.6,353.5 861.9,348.9 862.1,353.1 862.4,348.6 862.6,350.0 862.9,351.3 863.1,346.9 863.4,346.6 863.6,347.8 863.9,347.6 864.1,347.9 864.4,347.0 864.6,346.9 864.9,346.8 865.1,346.6 865.4,345.4 865.6,347.6 865.9,346.8 866.1,345.3 866.4,349.1 866.6,343.8 866.9,346.6 867.1,344.1 867.4,345.4 867.6,345.1 867.9,344.8 868.1,345.2 868.4,341.0 868.6,347.3 868.9,342.2 869.1,339.2 869.4,338.7 869.6,345.4 869.9,343.7 870.1,340.1 870.4,341.7 870.6,343.3 870.9,340.3 871.1,338.5 871.4,339.3 871.6,340.6 871.9,339.3 872.1,336.2 872.4,340.0 872.6,336.5 872.9,338.0 873.1,341.7 873.4,339.6 873.6,340.0 873.9,339.7 874.1,341.8 874.4,339.7 874.6,337.0 874.9,341.6 875.1,336.2 875.4,338.6 875.6,345.1 875.9,344.3 876.1,342.6 876.4,343.2 876.6,343.5 876.9,345.4 877.1,343.3 877.4,344.2 877.6,344.3 877.9,346.3 878.1,347.7 878.4,347.9 878.6,349.8 878.9,347.7 879.1,349.2 879.4,348.8 879.6,348.2 879.9,351.0 880.1,349.6 880.4,349.1 880.6,351.6 880.9,351.2 881.1,354.8 881.4,354.2 881.6,352.5 881.9,349.3 882.1,350.4 882.4,354.2 882.6,352.0 882.9,354.2 883.1,355.1 883.4,352.5 883.6,355.4 883.9,354.3 884.1,354.9 884.4,356.1 884.6,354.8 884.9,354.0 885.1,355.0 885.4,354.3 885.6,354.9 885.9,351.7 886.1,356.3 886.4,354.2 886.6,355.8 886.9,356.0 887.1,355.9 887.4,356.3 887.6,355.9 887.9,354.4 888.1,355.4 888.4,357.1 888.6,355.1 888.9,355.3 889.1,358.5 889.4,356.8 889.6,357.6 889.9,355.9 890.1,356.8 890.4,358.0 890.6,359.1 890.9,358.0 891.1,355.4 891.4,355.6 891.6,355.0 891.9,358.3 892.1,356.3 892.4,356.8 892.6,357.3 892.9,357.1 893.1,357.6 893.4,356.4 893.6,355.2 893.9,357.2 894.1,356.1 894.4,357.1 894.6,356.8 894.9,357.5 895.1,358.1 895.4,358.8 895.6,356.9 895.9,357.7 896.1,357.1 896.4,358.7 896.6,356.4 896.9,357.8 897.1,356.3 897.4,356.4 897.6,357.5 897.9,357.4 898.1,356.5 898.4,356.9 898.6,358.0 898.9,357.2 899.1,357.0 899.4,357.2 899.6,357.4 899.9,358.5 900.1,358.4 900.4,358.5 900.6,359.1 900.9,356.4 901.1,356.6 901.4,355.9 901.6,358.7 901.9,356.1 902.1,358.2 902.4,359.0 902.6,357.4 902.9,358.2 903.1,358.1 903.4,358.8 903.6,356.7 903.9,358.0 904.1,358.3 904.4,357.7 904.6,357.7 904.9,358.9 905.1,358.2 905.4,358.3 905.6,358.2 905.9,358.8 906.1,358.5 906.4,359.0 906.6,358.5 906.9,359.1 907.1,357.3 907.4,358.2 907.6,358.1 907.9,358.0 908.1,358.6 908.4,358.5 908.6,358.8 908.9,359.7 909.1,358.7 909.4,357.0 909.6,356.6 909.9,357.9 910.1,356.8 910.4,357.7 910.6,357.4 910.9,358.9 911.1,358.7 911.4,357.1 911.6,358.5 911.9,358.1 912.1,357.1 912.4,358.6 912.6,358.0 912.9,358.1 913.1,360.5 913.4,359.9 913.6,358.9 913.9,357.1 914.1,356.7 914.4,359.2 914.6,357.7 914.9,358.1 915.1,358.0 915.4,358.5 915.6,360.3 915.9,357.6 916.1,357.8 916.4,358.0 916.6,358.0 916.9,356.5 917.1,356.2 917.4,357.4 917.6,357.7 917.9,357.3 918.1,357.1 918.4,357.4 918.6,357.6 918.9,358.0 919.1,356.7 919.4,357.4 919.6,358.0 919.9,356.8 920.1,355.9 920.4,356.7 920.6,356.9 920.9,357.8 921.1,356.0 921.4,358.4 921.6,357.4 921.9,357.9 922.1,358.2 922.4,357.3 922.6,357.6 922.9,358.2 923.1,359.3 923.4,358.7 923.6,358.3 923.9,358.9 924.1,359.5 924.4,360.2 924.6,358.1 924.9,357.8 925.1,357.8 925.4,357.4 925.6,356.3 925.9,356.9 926.1,358.1 926.4,358.3 926.6,357.8 926.9,357.0 927.1,357.4 927.4,356.8 927.6,358.1 927.9,358.4 928.1,357.5 928.4,356.5 928.6,356.3 928.9,356.2 929.1,354.8 929.4,355.8 929.6,354.9 929.9,355.0 930.1,356.0 930.4,355.6 930.6,354.8" fill="none" stroke="#ff0000" stroke-width="2.3" stroke-linejoin="round"/>
<path d="M159.6,701.6 159.8,704.1 160.1,703.5 160.3,703.6 160.6,705.3 160.8,699.7 161.1,701.0 161.3,690.6 161.6,701.8 161.8,703.2 162.1,701.0 162.3,702.5 162.6,698.1 162.8,700.8 163.1,699.1 163.3,704.2 163.6,703.5 163.8,703.0 164.1,700.9 164.3,702.6 164.6,702.5 164.8,700.6 165.1,699.8 165.3,700.9 165.6,700.7 165.8,700.6 166.1,701.6 166.3,700.8 166.6,703.5 166.8,699.2 167.1,702.7 167.3,700.0 167.6,700.1 167.8,699.1 168.1,701.0 168.3,700.5 168.6,701.9 168.8,700.9 169.1,701.6 169.3,704.8 169.6,702.5 169.8,701.7 170.1,704.2 170.3,702.6 170.6,703.6 170.8,703.0 171.1,701.5 171.3,698.5 171.6,701.1 171.8,702.2 172.1,701.5 172.3,702.1 172.6,703.2 172.8,700.8 173.1,703.3 173.3,703.9 173.6,701.8 173.8,703.0 174.1,702.8 174.3,704.9 174.6,702.4 174.8,701.7 175.1,702.8 175.3,699.9 175.6,698.8 175.8,699.9 176.1,701.1 176.3,701.9 176.6,699.2 176.8,698.3 177.1,700.9 177.3,701.2 177.6,702.2 177.8,703.8 178.1,704.3 178.3,700.9 178.6,699.2 178.8,697.3 179.1,698.3 179.3,700.5 179.6,701.4 179.8,702.3 180.1,703.1 180.3,703.1 180.6,703.4 180.8,699.0 181.1,697.7 181.3,703.9 181.6,704.0 181.8,700.6 182.1,705.3 182.3,702.1 182.6,702.1 182.8,702.0 183.1,702.2 183.3,699.0 183.6,702.7 183.8,701.5 184.1,699.9 184.3,701.1 184.6,697.9 184.8,700.0 185.1,701.0 185.3,699.6 185.6,700.4 185.8,700.0 186.1,700.0 186.3,702.4 186.6,701.3 186.8,701.0 187.1,702.2 187.3,705.6 187.6,702.3 187.8,703.5 188.1,700.3 188.3,704.6 188.6,703.4 188.8,704.1 189.1,701.5 189.3,700.0 189.6,702.8 189.8,702.4 190.1,700.4 190.3,699.3 190.6,702.5 190.8,700.9 191.1,705.7 191.3,700.8 191.6,699.8 191.8,700.9 192.1,698.7 192.3,699.9 192.6,704.4 192.8,701.3 193.1,701.2 193.3,699.9 193.6,703.0 193.8,704.0 194.1,703.6 194.3,702.7 194.6,703.5 194.8,703.3 195.1,701.0 195.3,703.8 195.6,698.8 195.8,700.3 196.1,701.8 196.3,702.6 196.6,701.7 196.8,703.2 197.1,704.6 197.3,703.6 197.6,703.2 197.8,704.3 198.1,703.2 198.3,701.0 198.6,702.7 198.8,705.1 199.1,700.9 199.3,702.9 199.6,702.0 199.8,701.0 200.1,700.7 200.3,702.3 200.6,702.7 200.8,702.8 201.1,700.3 201.3,702.2 201.6,702.8 201.8,703.5 202.1,702.9 202.3,702.7 202.6,703.1 202.8,699.2 203.1,700.7 203.3,701.9 203.6,700.5 203.8,697.7 204.1,698.9 204.3,704.6 204.6,699.8 204.8,698.5 205.1,701.5 205.3,705.8 205.6,702.7 205.8,698.3 206.1,702.0 206.3,702.4 206.6,704.8 206.8,703.3 207.1,701.6 207.3,703.1 207.6,703.4 207.8,701.0 208.1,701.3 208.3,701.0 208.6,700.6 208.8,702.6 209.1,700.5 209.3,699.5 209.6,698.4 209.8,699.0 210.1,702.5 210.3,698.7 210.6,701.0 210.8,700.2 211.1,701.8 211.3,702.6 211.6,699.9 211.8,700.4 212.1,701.6 212.3,701.9 212.6,701.8 212.8,701.6 213.1,704.1 213.3,705.4 213.6,704.1 213.8,701.3 214.1,702.5 214.3,701.4 214.6,702.1 214.8,704.9 215.1,701.0 215.3,702.2 215.6,701.1 215.8,702.6 216.1,702.2 216.3,705.3 216.6,704.1 216.8,701.8 217.1,705.5 217.3,699.7 217.6,703.2 217.8,703.9 218.1,702.8 218.3,701.7 218.6,702.3 218.8,702.0 219.1,704.5 219.3,698.9 219.6,702.4 219.8,702.7 220.1,701.7 220.3,699.9 220.6,702.1 220.8,700.6 221.1,702.6 221.3,704.2 221.6,702.3 221.8,699.0 222.1,703.3 222.3,703.8 222.6,705.6 222.8,706.5 223.1,704.2 223.3,706.7 223.6,705.7 223.8,704.6 224.1,701.9 224.3,703.7 224.6,700.5 224.8,704.3 225.1,702.3 225.3,703.9 225.6,701.6 225.8,697.8 226.1,702.7 226.3,703.8 226.6,705.8 226.8,701.5 227.1,702.9 227.3,704.4 227.6,702.3 227.8,701.9 228.1,701.3 228.3,707.7 228.6,701.6 228.8,701.9 229.1,702.5 229.3,702.2 229.6,703.4 229.8,703.3 230.1,703.1 230.3,700.6 230.6,701.3 230.8,699.6 231.1,698.6 231.3,704.7 231.6,701.2 231.8,703.9 232.1,700.9 232.3,701.3 232.6,701.2 232.8,698.8 233.1,700.8 233.3,701.6 233.6,702.7 233.8,702.3 234.1,703.9 234.3,702.6 234.6,702.6 234.8,693.2 235.1,702.5 235.3,705.5 235.6,703.1 235.8,704.4 236.1,702.6 236.3,701.5 236.6,705.7 236.8,703.1 237.1,704.3 237.3,702.8 237.6,701.0 237.8,697.7 238.1,702.0 238.3,700.1 238.6,699.4 238.8,704.3 239.1,703.9 239.3,704.3 239.6,703.1 239.8,702.4 240.1,702.8 240.3,703.1 240.6,703.9 240.8,704.9 241.1,699.5 241.3,704.9 241.6,702.9 241.8,704.9 242.1,704.3 242.3,700.7 242.6,703.4 242.8,703.9 243.1,701.3 243.3,701.6 243.6,702.2 243.8,708.9 244.1,700.6 244.3,701.0 244.6,700.7 244.8,699.0 245.1,702.1 245.3,705.0 245.6,705.7 245.8,704.1 246.1,701.0 246.3,699.2 246.6,695.1 246.8,694.3 247.1,697.5 247.3,701.6 247.6,703.7 247.8,698.1 248.1,704.4 248.3,703.4 248.6,706.1 248.8,705.3 249.1,706.4 249.3,708.2 249.6,699.7 249.8,706.3 250.1,704.4 250.3,701.7 250.6,700.4 250.8,705.3 251.1,703.5 251.3,706.8 251.6,705.9 251.8,704.5 252.1,707.0 252.3,705.3 252.6,705.5 252.8,705.0 253.1,703.5 253.3,705.0 253.6,704.3 253.8,700.8 254.1,703.3 254.3,703.3 254.6,702.7 254.8,700.6 255.1,701.8 255.3,703.5 255.6,702.6 255.8,704.9 256.1,701.5 256.4,701.4 256.6,700.9 256.9,701.7 257.1,701.9 257.4,700.8 257.6,703.9 257.9,701.5 258.1,702.5 258.4,698.6 258.6,701.3 258.9,704.7 259.1,703.1 259.4,704.5 259.6,703.5 259.9,705.4 260.1,704.9 260.4,708.1 260.6,704.8 260.9,701.3 261.1,701.9 261.4,702.8 261.6,702.8 261.9,702.8 262.1,701.5 262.4,705.7 262.6,702.5 262.9,704.8 263.1,702.6 263.4,705.2 263.6,707.7 263.9,704.0 264.1,705.4 264.4,704.2 264.6,704.6 264.9,705.5 265.1,702.5 265.4,703.3 265.6,702.2 265.9,701.8 266.1,701.3 266.4,704.6 266.6,702.5 266.9,704.7 267.1,705.4 267.4,703.3 267.6,706.0 267.9,702.7 268.1,705.1 268.4,706.7 268.6,702.7 268.9,701.8 269.1,701.7 269.4,707.3 269.6,703.3 269.9,701.1 270.1,704.1 270.4,701.7 270.6,703.5 270.9,701.5 271.1,699.7 271.4,702.6 271.6,702.3 271.9,701.3 272.1,702.0 272.4,702.4 272.6,704.7 272.9,703.7 273.1,704.1 273.4,702.2 273.6,701.8 273.9,704.0 274.1,705.4 274.4,707.3 274.6,705.3 274.9,705.8 275.1,706.7 275.4,705.5 275.6,704.1 275.9,705.9 276.1,702.7 276.4,703.9 276.6,704.8 276.9,703.5 277.1,703.8 277.4,701.2 277.6,702.6 277.9,702.8 278.1,704.4 278.4,704.2 278.6,704.6 278.9,707.9 279.1,701.2 279.4,698.3 279.6,703.2 279.9,703.8 280.1,702.5 280.4,705.6 280.6,704.3 280.9,702.9 281.1,703.5 281.4,703.4 281.6,704.8 281.9,707.3 282.1,705.8 282.4,704.4 282.6,703.4 282.9,700.7 283.1,704.9 283.4,703.9 283.6,706.2 283.9,703.5 284.1,703.4 284.4,704.0 284.6,702.6 284.9,704.8 285.1,703.4 285.4,703.7 285.6,703.3 285.9,702.4 286.1,703.9 286.4,704.5 286.6,706.9 286.9,704.3 287.1,704.9 287.4,703.4 287.6,704.4 287.9,704.4 288.1,707.3 288.4,704.9 288.6,706.8 288.9,704.7 289.1,703.6 289.4,701.6 289.6,705.9 289.9,707.9 290.1,704.2 290.4,707.2 290.6,707.0 290.9,704.2 291.1,706.5 291.4,703.6 291.6,704.6 291.9,707.3 292.1,705.1 292.4,702.9 292.6,707.3 292.9,703.7 293.1,705.5 293.4,704.5 293.6,704.7 293.9,703.5 294.1,702.0 294.4,706.9 294.6,702.4 294.9,704.3 295.1,703.8 295.4,706.8 295.6,707.4 295.9,707.3 296.1,709.4 296.4,707.9 296.6,705.9 296.9,705.3 297.1,707.4 297.4,706.1 297.6,705.9 297.9,704.2 298.1,705.6 298.4,708.4 298.6,705.3 298.9,706.0 299.1,702.2 299.4,708.1 299.6,707.2 299.9,708.8 300.1,707.2 300.4,704.9 300.6,703.9 300.9,705.9 301.1,703.9 301.4,703.1 301.6,704.2 301.9,704.2 302.1,706.6 302.4,704.3 302.6,703.3 302.9,704.5 303.1,703.4 303.4,706.6 303.6,703.2 303.9,703.1 304.1,705.1 304.4,704.9 304.6,705.6 304.9,705.6 305.1,703.8 305.4,704.6 305.6,704.6 305.9,702.5 306.1,704.0 306.4,704.3 306.6,701.3 306.9,702.4 307.1,703.0 307.4,704.5 307.6,705.0 307.9,702.5 308.1,705.3 308.4,705.7 308.6,707.5 308.9,704.6 309.1,703.7 309.4,702.4 309.6,706.0 309.9,707.4 310.1,704.2 310.4,705.1 310.6,706.3 310.9,706.8 311.1,704.2 311.4,704.8 311.6,703.0 311.9,701.3 312.1,703.0 312.4,703.3 312.6,701.3 312.9,703.3 313.1,705.5 313.4,699.9 313.6,703.5 313.9,704.1 314.1,703.5 314.4,704.1 314.6,703.3 314.9,705.5 315.1,701.7 315.4,703.0 315.6,699.9 315.9,703.8 316.1,706.8 316.4,706.2 316.6,704.8 316.9,704.4 317.1,702.2 317.4,699.6 317.6,697.1 317.9,701.6 318.1,702.9 318.4,698.5 318.6,699.2 318.9,698.6 319.1,696.8 319.4,695.7 319.6,695.7 319.9,691.5 320.1,697.8 320.4,697.0 320.6,689.7 320.9,691.5 321.1,683.8 321.4,683.4 321.6,683.6 321.9,676.2 322.1,673.2 322.4,673.5 322.6,666.7 322.9,673.2 323.1,670.5 323.4,666.8 323.6,668.8 323.9,665.6 324.1,667.2 324.4,672.2 324.6,673.7 324.9,675.8 325.1,677.5 325.4,679.7 325.6,686.0 325.9,682.5 326.1,686.1 326.4,688.8 326.6,688.1 326.9,690.2 327.1,693.0 327.4,698.1 327.6,700.4 327.9,699.3 328.1,696.6 328.4,699.8 328.6,701.0 328.9,701.3 329.1,702.2 329.4,704.2 329.6,700.3 329.9,702.2 330.1,703.2 330.4,704.6 330.6,703.9 330.9,703.7 331.1,703.1 331.4,702.6 331.6,704.5 331.9,704.2 332.1,703.5 332.4,705.9 332.6,706.5 332.9,703.8 333.1,705.7 333.4,698.5 333.6,704.6 333.9,704.2 334.1,704.9 334.4,702.1 334.6,702.6 334.9,706.6 335.1,705.8 335.4,707.3 335.6,704.5 335.9,706.5 336.1,705.8 336.4,706.8 336.6,702.5 336.9,703.8 337.1,704.6 337.4,704.1 337.6,702.5 337.9,703.2 338.1,701.8 338.4,707.1 338.6,703.5 338.9,703.7 339.1,702.3 339.4,703.6 339.6,704.8 339.9,703.3 340.1,704.1 340.4,708.2 340.6,706.2 340.9,705.0 341.1,704.1 341.4,704.6 341.6,703.3 341.9,704.5 342.1,702.9 342.4,702.5 342.6,703.1 342.9,702.6 343.1,704.7 343.4,708.4 343.6,704.3 343.9,702.8 344.1,706.2 344.4,704.2 344.6,707.9 344.9,705.7 345.1,706.3 345.4,703.9 345.6,702.9 345.9,704.9 346.1,702.2 346.4,695.6 346.6,703.3 346.9,713.5 347.1,708.9 347.4,704.7 347.6,704.7 347.9,708.8 348.1,704.7 348.4,703.8 348.6,703.3 348.9,705.6 349.1,701.8 349.4,706.0 349.6,704.1 349.9,701.5 350.1,703.5 350.4,701.9 350.6,702.5 350.9,699.4 351.1,703.0 351.4,702.1 351.6,703.5 351.9,699.6 352.1,700.1 352.4,704.3 352.6,699.7 352.9,694.3 353.1,697.0 353.4,694.7 353.6,691.9 353.9,689.2 354.1,691.7 354.4,685.6 354.6,684.3 354.9,680.2 355.1,675.4 355.4,672.6 355.6,671.1 355.9,662.9 356.1,660.5 356.4,654.3 356.6,651.4 356.9,642.3 357.1,635.1 357.4,624.8 357.6,615.3 357.9,602.5 358.1,594.2 358.4,583.0 358.6,569.7 358.9,557.0 359.1,539.1 359.4,517.1 359.6,504.7 359.9,488.9 360.1,478.6 360.4,462.3 360.6,453.8 360.9,450.9 361.1,436.9 361.4,436.4 361.6,440.2 361.9,437.2 362.1,441.4 362.4,451.8 362.6,469.6 362.9,471.7 363.1,489.4 363.4,505.7 363.6,527.1 363.9,539.4 364.1,556.7 364.4,572.5 364.6,584.6 364.9,603.8 365.1,615.9 365.4,630.0 365.6,638.6 365.9,646.8 366.1,655.6 366.4,659.3 366.6,668.5 366.9,676.3 367.1,677.2 367.4,679.6 367.6,683.7 367.9,685.4 368.1,688.2 368.4,693.9 368.6,694.3 368.9,700.1 369.1,699.2 369.4,697.9 369.6,699.0 369.9,700.0 370.1,696.6 370.4,702.7 370.6,703.9 370.9,704.6 371.1,702.4 371.4,704.1 371.6,704.7 371.9,702.6 372.1,704.2 372.4,706.7 372.6,708.4 372.9,709.8 373.1,708.7 373.4,708.4 373.6,703.2 373.9,709.0 374.1,711.1 374.4,705.2 374.6,703.3 374.9,708.1 375.1,705.8 375.4,707.3 375.6,703.9 375.9,706.9 376.1,705.1 376.4,702.3 376.6,703.7 376.9,706.3 377.1,708.3 377.4,706.2 377.6,704.9 377.9,705.1 378.1,707.3 378.4,708.2 378.6,706.8 378.9,706.0 379.1,707.6 379.4,706.5 379.6,706.9 379.9,703.7 380.1,705.5 380.4,708.7 380.6,706.8 380.9,711.0 381.1,707.6 381.4,705.2 381.6,707.7 381.9,708.2 382.1,705.6 382.4,702.8 382.6,697.3 382.9,704.6 383.1,706.5 383.4,707.4 383.6,705.4 383.9,705.3 384.1,706.7 384.4,705.6 384.6,706.8 384.9,707.7 385.1,707.7 385.4,705.5 385.6,708.0 385.9,708.7 386.1,707.2 386.4,709.8 386.6,706.7 386.9,709.5 387.1,707.2 387.4,709.4 387.6,706.6 387.9,709.7 388.1,706.3 388.4,707.7 388.6,708.2 388.9,710.7 389.1,707.8 389.4,708.7 389.6,706.1 389.9,706.1 390.1,707.9 390.4,707.7 390.6,707.5 390.9,706.8 391.1,703.0 391.4,706.6 391.6,703.8 391.9,704.5 392.1,702.4 392.4,696.3 392.6,694.4 392.9,693.2 393.1,694.2 393.4,695.6 393.6,691.2 393.9,692.4 394.1,686.7 394.4,685.5 394.6,682.5 394.9,681.3 395.1,676.1 395.4,673.0 395.6,670.8 395.9,663.7 396.1,657.6 396.4,652.8 396.6,646.6 396.9,639.2 397.1,634.1 397.4,622.0 397.6,610.0 397.9,601.9 398.1,595.0 398.4,588.7 398.6,578.7 398.9,566.7 399.1,549.6 399.4,543.1 399.6,534.6 399.9,519.0 400.1,512.5 400.4,508.9 400.6,494.2 400.9,490.1 401.1,476.3 401.4,475.8 401.6,476.3 401.9,476.3 402.1,476.7 402.4,476.3 402.6,484.0 402.9,497.0 403.1,501.2 403.4,513.0 403.6,521.6 403.9,523.3 404.1,535.7 404.4,551.2 404.6,553.2 404.9,575.1 405.1,579.5 405.4,593.7 405.6,603.0 405.9,612.0 406.1,623.1 406.4,626.1 406.6,638.5 406.9,646.4 407.1,651.5 407.4,657.3 407.6,658.0 407.9,666.8 408.1,671.7 408.4,668.6 408.6,676.6 408.9,679.8 409.1,687.6 409.4,685.9 409.6,689.6 409.9,695.0 410.1,694.0 410.4,694.2 410.6,694.0 410.9,695.5 411.1,696.5 411.4,701.1 411.6,699.6 411.9,703.5 412.1,705.8 412.4,707.5 412.6,705.4 412.9,706.1 413.1,707.1 413.4,706.4 413.6,707.7 413.9,706.0 414.1,709.4 414.4,710.9 414.6,706.0 414.9,708.2 415.1,706.3 415.4,709.6 415.6,709.3 415.9,708.3 416.1,707.8 416.4,709.3 416.6,712.2 416.9,710.7 417.1,710.0 417.4,708.9 417.6,709.6 417.9,708.7 418.1,708.5 418.4,709.6 418.6,710.9 418.9,710.4 419.1,710.4 419.4,709.2 419.6,708.0 419.9,711.1 420.1,710.2 420.4,712.3 420.6,710.1 420.9,711.8 421.1,711.6 421.4,710.5 421.6,710.0 421.9,713.0 422.1,711.4 422.4,710.3 422.6,710.9 422.9,708.6 423.1,713.0 423.4,711.8 423.6,709.5 423.9,710.2 424.1,705.8 424.4,710.7 424.6,710.2 424.9,710.8 425.1,711.7 425.4,710.9 425.6,709.8 425.9,709.9 426.1,710.1 426.4,711.3 426.6,710.0 426.9,709.3 427.1,710.5 427.4,708.6 427.6,713.0 427.9,710.4 428.1,709.3 428.4,711.0 428.6,712.1 428.9,711.4 429.1,713.2 429.4,709.2 429.6,713.0 429.9,711.0 430.1,711.8 430.4,713.2 430.6,709.7 430.9,709.8 431.1,710.8 431.4,709.2 431.6,709.5 431.9,712.0 432.1,713.4 432.4,711.3 432.6,712.1 432.9,716.1 433.1,711.6 433.4,710.8 433.6,710.7 433.9,711.2 434.1,710.6 434.4,711.4 434.6,711.0 434.9,710.1 435.1,707.7 435.4,707.1 435.6,709.7 435.9,709.3 436.1,710.5 436.4,710.6 436.6,711.3 436.9,711.2 437.1,710.7 437.4,714.5 437.6,712.2 437.9,713.2 438.1,710.8 438.4,713.1 438.6,712.8 438.9,711.4 439.1,709.7 439.4,712.4 439.6,709.2 439.9,708.4 440.1,708.6 440.4,710.7 440.6,710.1 440.9,711.5 441.1,711.7 441.4,712.3 441.6,710.9 441.9,710.9 442.1,711.0 442.4,709.9 442.6,709.8 442.9,710.1 443.1,711.6 443.4,709.8 443.6,710.6 443.9,714.3 444.1,713.1 444.4,712.6 444.6,710.0 444.9,711.4 445.1,710.0 445.4,711.2 445.6,714.9 445.9,710.7 446.1,712.4 446.4,713.2 446.6,712.2 446.9,711.0 447.1,713.3 447.4,709.6 447.6,711.1 447.9,711.2 448.1,710.5 448.4,712.3 448.6,710.6 448.9,713.7 449.1,711.4 449.4,713.7 449.6,712.6 449.9,712.2 450.1,711.7 450.4,713.4 450.6,711.1 450.9,711.0 451.1,710.3 451.4,708.8 451.6,711.9 451.9,711.5 452.1,709.3 452.4,711.0 452.6,710.6 452.9,708.8 453.1,710.1 453.4,711.5 453.6,711.8 453.9,711.3 454.1,714.8 454.4,712.0 454.6,710.8 454.9,710.4 455.1,713.7 455.4,710.8 455.6,712.7 455.9,713.2 456.1,715.1 456.4,714.4 456.6,714.0 456.9,712.4 457.1,710.4 457.4,710.5 457.6,707.3 457.9,707.5 458.1,710.1 458.4,709.2 458.6,712.6 458.9,712.1 459.1,712.5 459.4,710.7 459.6,711.4 459.9,712.5 460.1,711.6 460.4,711.8 460.6,712.9 460.9,713.2 461.1,711.9 461.4,713.8 461.6,714.7 461.9,712.1 462.1,711.1 462.4,710.9 462.6,713.3 462.9,709.6 463.1,708.4 463.4,710.1 463.6,710.7 463.9,713.0 464.1,710.9 464.4,711.9 464.6,709.4 464.9,714.1 465.1,712.1 465.4,711.4 465.6,710.6 465.9,710.6 466.1,709.8 466.4,712.1 466.6,710.8 466.9,712.2 467.1,712.0 467.4,713.5 467.6,710.8 467.9,711.0 468.1,711.2 468.4,709.5 468.6,710.2 468.9,710.7 469.1,711.5 469.4,711.0 469.6,710.3 469.9,711.8 470.1,710.1 470.4,709.4 470.6,713.8 470.9,712.5 471.1,712.1 471.4,712.1 471.6,713.5 471.9,716.0 472.1,713.7 472.4,715.6 472.6,713.3 472.9,714.8 473.1,711.7 473.4,709.1 473.6,708.6 473.9,709.0 474.1,709.0 474.4,710.3 474.6,712.0 474.9,713.3 475.1,712.5 475.4,712.4 475.6,711.0 475.9,713.9 476.1,714.1 476.4,711.5 476.6,712.9 476.9,712.2 477.1,711.3 477.4,714.5 477.6,713.9 477.9,713.2 478.1,714.6 478.4,712.4 478.6,712.9 478.9,714.3 479.1,712.2 479.4,712.5 479.6,708.8 479.9,712.3 480.1,713.3 480.4,706.6 480.6,710.8 480.9,711.7 481.1,713.4 481.4,711.4 481.6,710.2 481.9,711.1 482.1,711.7 482.4,710.0 482.6,711.6 482.9,713.5 483.1,712.5 483.4,711.8 483.6,713.5 483.9,711.1 484.1,714.8 484.4,713.2 484.6,712.8 484.9,713.2 485.1,712.5 485.4,711.9 485.6,710.7 485.9,711.7 486.1,709.3 486.4,713.3 486.6,710.1 486.9,711.5 487.1,711.4 487.4,712.7 487.6,707.0 487.9,712.5 488.1,709.6 488.4,710.5 488.6,710.9 488.9,711.9 489.1,713.7 489.4,714.1 489.6,713.1 489.9,708.0 490.1,708.4 490.4,708.0 490.6,709.3 490.9,709.7 491.1,710.7 491.4,712.7 491.6,713.7 491.9,713.8 492.1,710.6 492.4,711.0 492.6,712.1 492.9,712.2 493.1,711.9 493.4,709.9 493.6,712.0 493.9,713.0 494.1,712.5 494.4,711.7 494.6,711.1 494.9,711.7 495.1,713.6 495.4,711.9 495.6,712.8 495.9,714.2 496.1,709.9 496.4,710.6 496.6,708.7 496.9,711.5 497.1,710.8 497.4,711.9 497.6,711.4 497.9,712.3 498.1,712.1 498.4,711.9 498.6,712.4 498.9,711.7 499.1,711.0 499.4,711.4 499.6,711.6 499.9,712.2 500.1,713.0 500.4,708.2 500.6,703.4 500.9,709.3 501.1,710.6 501.4,710.2 501.6,710.7 501.9,713.5 502.1,709.3 502.4,709.9 502.6,711.4 502.9,708.0 503.1,711.4 503.4,713.1 503.6,713.7 503.9,713.9 504.1,713.0 504.4,713.5 504.6,717.1 504.9,713.9 505.1,714.6 505.4,711.5 505.6,713.1 505.9,712.9 506.1,711.9 506.4,708.9 506.6,711.0 506.9,713.2 507.1,711.1 507.4,707.7 507.6,708.2 507.9,706.8 508.1,712.5 508.4,714.9 508.6,714.4 508.9,713.0 509.1,710.7 509.4,710.7 509.6,712.9 509.9,712.5 510.1,712.4 510.4,712.6 510.6,710.9 510.9,712.6 511.1,708.8 511.4,711.2 511.6,711.3 511.9,711.7 512.1,711.5 512.4,712.1 512.6,710.1 512.9,712.2 513.1,710.7 513.4,711.9 513.6,711.0 513.9,711.9 514.1,711.7 514.4,710.2 514.6,711.0 514.9,709.3 515.1,710.8 515.4,710.5 515.6,709.5 515.9,710.3 516.1,712.2 516.4,712.5 516.6,712.8 516.9,710.6 517.1,710.4 517.4,711.5 517.6,712.4 517.9,709.2 518.1,713.7 518.4,712.6 518.6,710.5 518.9,713.5 519.1,711.2 519.4,711.3 519.6,710.0 519.9,710.7 520.1,710.6 520.4,711.4 520.6,709.7 520.9,711.1 521.1,710.8 521.4,710.2 521.6,709.7 521.9,710.3 522.1,713.2 522.4,708.7 522.6,709.1 522.9,711.1 523.1,710.8 523.4,709.2 523.6,711.0 523.9,709.2 524.1,710.4 524.4,711.4 524.6,710.5 524.9,709.4 525.1,709.5 525.4,709.7 525.6,707.5 525.9,707.0 526.1,710.3 526.4,709.2 526.6,710.5 526.9,708.6 527.1,708.3 527.4,701.1 527.6,703.3 527.9,706.2 528.1,702.7 528.4,699.9 528.6,701.2 528.9,698.2 529.1,697.4 529.4,694.6 529.6,695.0 529.9,695.1 530.1,691.0 530.4,691.7 530.6,689.1 530.9,688.9 531.1,686.9 531.4,683.4 531.6,684.8 531.9,684.5 532.1,685.2 532.4,687.4 532.6,686.8 532.9,687.8 533.1,691.4 533.4,689.4 533.6,691.9 533.9,693.0 534.1,694.6 534.4,694.5 534.6,699.1 534.9,699.2 535.1,698.4 535.4,697.3 535.6,699.5 535.9,702.6 536.1,699.2 536.4,706.8 536.6,703.9 536.9,705.3 537.1,707.0 537.4,704.5 537.6,707.5 537.9,707.5 538.1,708.6 538.4,706.4 538.6,708.4 538.9,709.6 539.1,709.4 539.4,709.1 539.6,709.2 539.9,708.0 540.1,709.8 540.4,711.7 540.6,712.4 540.9,711.5 541.1,711.5 541.4,709.4 541.6,709.9 541.9,708.2 542.1,709.6 542.4,709.4 542.6,710.4 542.9,711.4 543.1,710.2 543.4,710.0 543.6,710.9 543.9,712.0 544.1,711.5 544.4,708.5 544.6,712.4 544.9,710.1 545.1,709.1 545.4,710.5 545.6,712.4 545.9,707.9 546.1,712.7 546.4,711.1 546.6,711.2 546.9,708.6 547.1,709.7 547.4,709.1 547.6,711.3 547.9,708.9 548.1,710.3 548.4,709.4 548.6,708.1 548.9,711.2 549.1,712.2 549.4,712.9 549.6,710.4 549.9,711.3 550.1,712.0 550.4,711.4 550.6,711.5 550.9,713.8 551.1,710.7 551.4,711.8 551.6,710.3 551.9,712.3 552.1,709.6 552.4,708.7 552.6,710.7 552.9,710.1 553.1,709.7 553.4,710.5 553.6,710.6 553.9,712.3 554.1,712.4 554.4,714.5 554.6,711.4 554.9,713.9 555.1,712.8 555.4,710.4 555.6,713.5 555.9,709.4 556.1,711.7 556.4,708.7 556.6,711.4 556.9,710.6 557.1,710.4 557.4,708.4 557.6,710.5 557.9,712.9 558.1,711.8 558.4,711.3 558.6,711.5 558.9,710.6 559.1,712.9 559.4,711.3 559.6,712.6 559.9,708.9 560.1,708.9 560.4,720.2 560.6,709.8 560.9,710.2 561.1,711.4 561.4,712.8 561.6,712.8 561.9,712.0 562.1,713.6 562.4,711.9 562.6,712.7 562.9,711.1 563.1,710.7 563.4,713.5 563.6,710.8 563.9,708.3 564.1,711.4 564.4,711.4 564.6,713.5 564.9,711.2 565.1,710.5 565.4,712.0 565.6,713.9 565.9,711.3 566.1,713.6 566.4,712.5 566.6,713.0 566.9,711.1 567.1,712.2 567.4,710.9 567.6,711.2 567.9,710.4 568.1,712.2 568.4,710.6 568.6,711.3 568.9,708.9 569.1,710.6 569.4,714.4 569.6,710.5 569.9,708.7 570.1,710.3 570.4,710.5 570.6,710.3 570.9,710.5 571.1,710.3 571.4,712.0 571.6,709.5 571.9,711.1 572.1,711.8 572.4,710.0 572.6,714.5 572.9,712.0 573.1,711.8 573.4,714.7 573.6,719.9 573.9,714.8 574.1,714.8 574.4,715.1 574.6,711.1 574.9,711.5 575.1,709.0 575.4,710.7 575.6,708.8 575.9,709.2 576.1,710.0 576.4,712.4 576.6,709.5 576.9,707.9 577.1,710.5 577.4,711.5 577.6,711.5 577.9,711.1 578.1,712.2 578.4,710.5 578.6,710.1 578.9,707.5 579.1,706.7 579.4,711.0 579.6,708.4 579.9,711.7 580.1,711.1 580.4,708.1 580.6,709.1 580.9,710.3 581.1,711.0 581.4,708.1 581.6,708.9 581.9,707.2 582.1,706.1 582.4,707.3 582.6,707.0 582.9,703.3 583.1,707.9 583.4,707.0 583.6,706.8 583.9,705.5 584.1,707.8 584.4,706.3 584.6,706.0 584.9,705.1 585.1,705.2 585.4,707.0 585.6,704.4 585.9,703.7 586.1,701.6 586.4,702.2 586.6,699.8 586.9,697.6 587.1,699.5 587.4,695.5 587.6,692.8 587.9,691.2 588.1,690.2 588.4,686.8 588.6,689.5 588.9,685.7 589.1,678.8 589.4,682.4 589.6,676.6 589.9,677.1 590.1,673.4 590.4,673.7 590.6,670.8 590.9,669.7 591.1,668.1 591.4,661.1 591.6,662.2 591.9,664.3 592.1,664.0 592.4,662.0 592.6,664.0 592.9,665.5 593.1,663.4 593.4,667.0 593.6,672.6 593.9,671.6 594.1,674.7 594.4,678.0 594.6,681.2 594.9,684.4 595.1,687.5 595.4,687.8 595.6,690.2 595.9,690.6 596.1,693.0 596.4,694.2 596.6,697.4 596.9,698.7 597.1,696.4 597.4,696.6 597.6,702.7 597.9,702.2 598.1,701.2 598.4,705.7 598.6,707.1 598.9,703.6 599.1,704.1 599.4,705.0 599.6,705.5 599.9,706.8 600.1,705.0 600.4,706.5 600.6,706.3 600.9,708.4 601.1,706.8 601.4,708.3 601.6,709.3 601.9,708.9 602.1,709.0 602.4,707.5 602.6,708.6 602.9,711.9 603.1,711.6 603.4,709.5 603.6,709.3 603.9,710.0 604.1,711.0 604.4,707.4 604.6,710.0 604.9,707.9 605.1,711.7 605.4,708.3 605.6,711.6 605.9,710.3 606.1,710.5 606.4,712.5 606.6,710.6 606.9,711.1 607.1,710.7 607.4,708.6 607.6,710.6 607.9,712.4 608.1,711.5 608.4,711.4 608.6,710.2 608.9,712.9 609.1,709.9 609.4,712.1 609.6,708.8 609.9,710.0 610.1,707.9 610.4,710.6 610.6,709.0 610.9,710.3 611.1,712.0 611.4,711.1 611.6,710.8 611.9,711.3 612.1,708.7 612.4,710.5 612.6,709.7 612.9,711.5 613.1,709.9 613.4,712.5 613.6,713.2 613.9,708.2 614.1,710.9 614.4,709.4 614.6,713.0 614.9,711.3 615.1,712.8 615.4,712.3 615.6,710.6 615.9,710.1 616.1,713.1 616.4,710.5 616.6,708.0 616.9,713.8 617.1,712.2 617.4,711.5 617.6,710.4 617.9,712.0 618.1,709.5 618.4,708.8 618.6,710.2 618.9,710.6 619.1,710.0 619.4,712.1 619.6,714.0 619.9,713.3 620.1,715.0 620.4,713.4 620.6,711.6 620.9,708.3 621.1,705.9 621.4,712.0 621.6,710.1 621.9,712.4 622.1,710.2 622.4,712.0 622.6,712.8 622.9,713.7 623.1,711.9 623.4,714.1 623.6,710.9 623.9,709.5 624.1,711.8 624.4,713.4 624.6,710.9 624.9,713.7 625.1,711.8 625.4,714.1 625.6,710.4 625.9,717.6 626.1,711.3 626.4,712.2 626.6,710.4 626.9,711.8 627.1,711.0 627.4,711.0 627.6,711.9 627.9,712.0 628.1,710.8 628.4,712.9 628.6,709.3 628.9,709.9 629.1,709.6 629.4,711.2 629.6,711.8 629.9,710.5 630.1,710.2 630.4,709.5 630.6,711.8 630.9,712.8 631.1,710.4 631.4,710.8 631.6,710.7 631.9,711.0 632.1,711.4 632.4,708.4 632.6,710.3 632.9,711.7 633.1,709.3 633.4,711.7 633.6,712.1 633.9,709.0 634.1,709.1 634.4,712.2 634.6,708.5 634.9,709.8 635.1,709.2 635.4,711.9 635.6,712.5 635.9,712.3 636.1,712.1 636.4,709.8 636.6,713.0 636.9,711.2 637.1,711.0 637.4,713.6 637.6,712.1 637.9,712.2 638.1,712.9 638.4,714.0 638.6,711.1 638.9,712.1 639.1,708.2 639.4,709.8 639.6,713.7 639.9,713.8 640.1,711.0 640.4,709.9 640.6,708.8 640.9,708.9 641.1,709.1 641.4,707.5 641.6,709.8 641.9,709.7 642.1,708.4 642.4,708.6 642.6,708.4 642.9,709.0 643.1,711.9 643.4,715.3 643.6,714.5 643.9,714.3 644.1,712.6 644.4,710.3 644.6,710.2 644.9,708.2 645.1,709.7 645.4,709.9 645.6,706.5 645.9,708.7 646.1,708.3 646.4,707.3 646.6,705.7 646.9,705.6 647.1,707.4 647.4,703.7 647.6,701.6 647.9,701.4 648.1,703.1 648.4,700.5 648.6,703.4 648.9,702.3 649.1,701.5 649.4,703.3 649.6,696.8 649.9,697.4 650.1,696.9 650.4,697.5 650.6,692.9 650.9,694.3 651.1,697.5 651.4,693.0 651.6,695.6 651.9,691.2 652.1,690.3 652.4,695.1 652.6,698.2 652.9,697.7 653.1,695.4 653.4,698.0 653.6,700.1 653.9,701.4 654.1,698.9 654.4,700.1 654.6,698.4 654.9,703.3 655.1,700.7 655.4,702.1 655.6,706.1 655.9,705.7 656.1,704.5 656.4,704.2 656.6,705.0 656.9,705.4 657.1,706.7 657.4,709.2 657.6,707.3 657.9,708.5 658.1,708.8 658.4,707.2 658.6,710.8 658.9,711.1 659.1,708.6 659.4,706.6 659.6,708.3 659.9,710.7 660.1,706.9 660.4,707.3 660.6,709.0 660.9,710.5 661.1,710.9 661.4,711.3 661.6,707.3 661.9,709.7 662.1,709.6 662.4,709.6 662.6,712.0 662.9,711.2 663.1,709.3 663.4,710.5 663.6,710.6 663.9,711.6 664.1,709.3 664.4,711.5 664.6,710.4 664.9,711.9 665.1,711.2 665.4,711.8 665.6,711.5 665.9,712.9 666.1,709.9 666.4,709.1 666.6,710.1 666.9,711.6 667.1,712.1 667.4,711.1 667.6,710.3 667.9,711.2 668.1,710.6 668.4,712.0 668.6,711.1 668.9,711.8 669.1,711.6 669.4,711.9 669.6,713.0 669.9,711.2 670.1,712.6 670.4,712.3 670.6,711.2 670.9,713.8 671.1,712.3 671.4,710.5 671.6,712.9 671.9,712.7 672.1,712.4 672.4,710.5 672.6,710.1 672.9,710.6 673.1,708.9 673.4,710.6 673.6,710.3 673.9,711.5 674.1,710.1 674.4,712.0 674.6,710.2 674.9,711.0 675.1,712.9 675.4,713.7 675.6,709.9 675.9,710.0 676.1,709.9 676.4,710.7 676.6,712.7 676.9,710.3 677.1,711.4 677.4,711.3 677.6,711.5 677.9,711.0 678.1,712.0 678.4,712.9 678.6,712.1 678.9,712.3 679.1,713.7 679.4,714.2 679.6,714.8 679.9,710.2 680.1,711.9 680.4,711.5 680.6,710.1 680.9,711.3 681.1,711.2 681.4,711.2 681.6,711.4 681.9,712.9 682.1,711.0 682.4,711.5 682.6,711.6 682.9,710.6 683.1,709.9 683.4,709.5 683.6,710.6 683.9,713.0 684.1,709.5 684.4,712.1 684.6,710.8 684.9,709.8 685.1,711.6 685.4,710.7 685.6,710.5 685.9,709.9 686.1,710.2 686.4,708.9 686.6,709.8 686.9,710.9 687.1,709.8 687.4,708.5 687.6,711.8 687.9,709.4 688.1,708.1 688.4,709.5 688.6,710.4 688.9,709.6 689.1,706.8 689.4,708.0 689.6,708.7 689.9,709.2 690.1,704.9 690.4,704.4 690.6,706.3 690.9,705.2 691.1,704.6 691.4,704.6 691.6,700.5 691.9,700.1 692.1,699.4 692.4,702.0 692.6,698.6 692.9,699.8 693.1,691.6 693.4,695.3 693.6,696.7 693.9,697.1 694.1,691.1 694.4,694.2 694.6,686.4 694.9,691.2 695.1,691.4 695.4,686.9 695.6,684.5 695.9,692.9 696.1,688.3 696.4,684.2 696.6,687.5 696.9,685.1 697.1,688.1 697.4,685.5 697.6,684.0 697.9,691.0 698.1,690.2 698.4,693.6 698.6,696.0 698.9,696.0 699.1,696.6 699.4,699.7 699.6,701.6 699.9,700.7 700.1,701.1 700.4,703.2 700.6,705.7 700.9,706.6 701.1,704.1 701.4,706.4 701.6,706.9 701.9,707.4 702.1,707.4 702.4,708.4 702.6,707.5 702.9,709.4 703.1,709.4 703.4,710.3 703.6,710.8 703.9,710.4 704.1,709.0 704.4,708.6 704.6,710.0 704.9,709.1 705.1,710.7 705.4,709.6 705.6,709.7 705.9,708.8 706.1,710.5 706.4,710.2 706.6,711.9 706.9,710.4 707.1,712.0 707.4,709.9 707.6,709.4 707.9,712.8 708.1,712.2 708.4,714.0 708.6,711.8 708.9,710.3 709.1,713.7 709.4,712.0 709.6,711.0 709.9,714.0 710.1,711.3 710.4,709.9 710.6,711.5 710.9,710.3 711.1,709.9 711.4,711.3 711.6,711.1 711.9,710.6 712.1,710.5 712.4,709.4 712.6,712.0 712.9,713.9 713.1,711.7 713.4,713.6 713.6,714.7 713.9,711.9 714.1,711.2 714.4,710.6 714.6,711.2 714.9,712.2 715.1,710.8 715.4,712.4 715.6,710.1 715.9,712.6 716.1,710.9 716.4,711.3 716.6,711.8 716.9,711.2 717.1,711.5 717.4,712.6 717.6,711.5 717.9,712.4 718.1,710.9 718.4,711.5 718.6,710.5 718.9,712.8 719.1,711.1 719.4,712.4 719.6,711.4 719.9,710.2 720.1,709.8 720.4,711.4 720.6,712.0 720.9,712.9 721.1,710.5 721.4,711.3 721.6,711.0 721.9,715.0 722.1,710.3 722.4,710.1 722.6,708.4 722.9,707.4 723.1,708.7 723.4,711.7 723.6,710.7 723.9,709.1 724.1,710.5 724.4,711.7 724.6,711.1 724.9,711.1 725.1,712.0 725.4,713.0 725.6,710.9 725.9,710.4 726.1,710.2 726.4,709.9 726.6,709.3 726.9,710.5 727.1,709.9 727.4,712.5 727.6,711.8 727.9,708.6 728.1,710.2 728.4,712.4 728.6,710.8 728.9,710.6 729.1,710.3 729.4,710.1 729.6,711.6 729.9,710.0 730.1,710.4 730.4,711.0 730.6,708.9 730.9,711.0 731.1,709.4 731.4,710.0 731.6,710.5 731.9,710.4 732.1,711.0 732.4,713.1 732.6,709.9 732.9,713.0 733.1,711.7 733.4,713.0 733.6,710.0 733.9,712.1 734.1,710.5 734.4,712.8 734.6,709.5 734.9,711.8 735.1,710.0 735.4,712.4 735.6,705.7 735.9,710.1 736.1,711.4 736.4,714.0 736.6,718.2 736.9,712.9 737.1,711.2 737.4,709.7 737.6,710.3 737.9,710.0 738.1,711.5 738.4,708.3 738.6,706.7 738.9,709.4 739.1,707.6 739.4,708.2 739.6,708.3 739.9,710.7 740.1,710.2 740.4,708.6 740.6,707.6 740.9,708.3 741.1,707.0 741.4,705.5 741.6,706.8 741.9,708.8 742.1,706.5 742.4,706.3 742.6,708.8 742.9,708.4 743.1,708.0 743.4,703.3 743.6,703.9 743.9,704.4 744.1,702.6 744.4,699.2 744.6,698.3 744.9,696.2 745.1,694.7 745.4,695.2 745.6,693.5 745.9,689.4 746.1,691.2 746.4,688.1 746.6,688.3 746.9,682.2 747.1,681.5 747.4,672.4 747.6,675.8 747.9,671.0 748.1,669.9 748.4,664.8 748.6,660.3 748.9,660.6 749.1,661.1 749.4,656.2 749.6,655.7 749.9,657.9 750.1,654.8 750.4,654.5 750.6,655.6 750.9,656.8 751.1,662.7 751.4,660.4 751.6,656.6 751.9,663.7 752.1,662.0 752.4,662.6 752.6,659.4 752.9,659.6 753.1,655.1 753.4,659.6 753.6,654.7 753.9,658.7 754.1,653.1 754.4,658.6 754.6,656.5 754.9,651.2 755.1,656.3 755.4,657.5 755.6,659.9 755.9,660.5 756.1,667.5 756.4,665.9 756.6,672.8 756.9,668.3 757.1,678.3 757.4,682.5 757.6,685.7 757.9,689.1 758.1,686.6 758.4,690.2 758.6,691.0 758.9,693.8 759.1,693.4 759.4,698.5 759.6,699.7 759.9,699.9 760.1,701.4 760.4,701.3 760.6,701.8 760.9,702.8 761.1,704.8 761.4,703.8 761.6,706.2 761.9,708.6 762.1,707.5 762.4,705.5 762.6,709.0 762.9,704.7 763.1,706.3 763.4,708.7 763.6,708.3 763.9,707.5 764.1,705.8 764.4,704.9 764.6,708.3 764.9,708.0 765.1,709.8 765.4,706.9 765.6,706.1 765.9,706.6 766.1,704.5 766.4,706.5 766.6,707.0 766.9,707.1 767.1,709.6 767.4,710.8 767.6,708.7 767.9,708.3 768.1,710.6 768.4,709.9 768.6,707.2 768.9,707.2 769.1,703.8 769.4,700.7 769.6,699.4 769.9,701.2 770.1,705.7 770.4,707.8 770.6,705.3 770.9,706.7 771.1,706.7 771.4,709.2 771.6,706.8 771.9,708.2 772.1,708.1 772.4,704.0 772.6,704.8 772.9,703.0 773.1,702.5 773.4,697.6 773.6,698.7 773.9,693.4 774.1,697.2 774.4,689.9 774.6,692.7 774.9,687.5 775.1,686.8 775.4,685.6 775.6,685.0 775.9,683.5 776.1,682.4 776.4,680.2 776.6,674.5 776.9,670.3 777.1,671.8 777.4,663.4 777.6,662.8 777.9,659.0 778.1,656.0 778.4,655.5 778.6,654.1 778.9,655.2 779.1,655.3 779.4,659.0 779.6,661.9 779.9,661.1 780.1,660.5 780.4,666.4 780.6,668.2 780.9,663.8 781.1,668.4 781.4,671.6 781.6,672.7 781.9,677.8 782.1,679.1 782.4,679.8 782.6,684.0 782.9,685.3 783.1,686.2 783.4,690.9 783.6,689.2 783.9,697.1 784.1,696.7 784.4,699.2 784.6,702.4 784.9,703.3 785.1,701.4 785.4,703.3 785.6,705.7 785.9,706.6 786.1,703.9 786.4,706.2 786.6,705.0 786.9,705.6 787.1,707.1 787.4,708.3 787.6,707.5 787.9,708.4 788.1,709.2 788.4,708.1 788.6,710.2 788.9,708.1 789.1,711.6 789.4,710.1 789.6,711.5 789.9,709.3 790.1,711.4 790.4,711.2 790.6,711.7 790.9,714.1 791.1,711.4 791.4,711.2 791.6,711.6 791.9,710.3 792.1,710.1 792.4,710.7 792.6,709.8 792.9,708.2 793.1,706.8 793.4,709.1 793.6,711.7 793.9,712.0 794.1,712.4 794.4,711.5 794.6,713.7 794.9,711.6 795.1,712.4 795.4,710.9 795.6,711.0 795.9,709.6 796.1,710.5 796.4,712.7 796.6,710.8 796.9,706.0 797.1,712.6 797.4,713.0 797.6,713.8 797.9,710.0 798.1,713.7 798.4,714.2 798.6,714.2 798.9,711.2 799.1,712.0 799.4,709.9 799.6,711.5 799.9,714.2 800.1,713.4 800.4,713.5 800.6,710.9 800.9,711.3 801.1,711.7 801.4,713.7 801.6,714.6 801.9,712.8 802.1,713.9 802.4,713.6 802.6,712.2 802.9,711.4 803.1,710.2 803.4,711.3 803.6,712.3 803.9,714.6 804.1,714.0 804.4,713.1 804.6,713.6 804.9,712.0 805.1,710.3 805.4,713.1 805.6,713.5 805.9,712.0 806.1,713.9 806.4,713.6 806.6,713.3 806.9,710.6 807.1,712.8 807.4,713.4 807.6,711.6 807.9,712.4 808.1,713.4 808.4,714.5 808.6,713.0 808.9,712.4 809.1,712.0 809.4,711.3 809.6,711.8 809.9,712.9 810.1,712.2 810.4,714.3 810.6,711.5 810.9,711.6 811.1,712.8 811.4,713.5 811.6,713.2 811.9,712.0 812.1,712.2 812.4,713.8 812.6,712.1 812.9,711.9 813.1,713.2 813.4,712.8 813.6,712.6 813.9,714.8 814.1,712.2 814.4,713.4 814.6,711.8 814.9,713.9 815.1,712.3 815.4,713.7 815.6,712.4 815.9,715.5 816.1,712.9 816.4,715.7 816.6,712.8 816.9,709.8 817.1,707.8 817.4,708.5 817.6,712.6 817.9,714.8 818.1,714.0 818.4,712.9 818.6,714.2 818.9,713.4 819.1,713.2 819.4,711.4 819.6,713.1 819.9,711.6 820.1,713.5 820.4,709.3 820.6,711.1 820.9,709.9 821.1,711.6 821.4,711.6 821.6,714.0 821.9,713.8 822.1,713.5 822.4,714.5 822.6,715.7 822.9,713.5 823.1,713.3 823.4,713.0 823.6,712.4 823.9,710.0 824.1,713.2 824.4,711.4 824.6,712.0 824.9,713.5 825.1,709.1 825.4,712.7 825.6,712.0 825.9,713.5 826.1,712.0 826.4,713.3 826.6,713.4 826.9,710.5 827.1,712.2 827.4,711.3 827.6,714.4 827.9,715.0 828.1,716.3 828.4,716.4 828.6,713.5 828.9,712.1 829.1,713.6 829.4,711.1 829.6,710.6 829.9,711.4 830.1,709.3 830.4,704.5 830.6,706.2 830.9,699.7 831.1,708.3 831.4,711.5 831.6,708.4 831.9,704.7 832.1,705.1 832.4,704.7 832.6,706.2 832.9,704.3 833.1,700.8 833.4,703.8 833.6,701.8 833.9,699.1 834.1,698.4 834.4,699.8 834.6,699.2 834.9,698.7 835.1,694.1 835.4,697.6 835.6,703.1 835.9,697.4 836.1,698.3 836.4,701.3 836.6,703.2 836.9,702.0 837.1,703.4 837.4,697.7 837.6,703.5 837.9,704.9 838.1,704.8 838.4,705.8 838.6,706.9 838.9,705.3 839.1,705.9 839.4,704.7 839.6,706.3 839.9,707.8 840.1,709.3 840.4,707.2 840.6,710.8 840.9,710.4 841.1,709.9 841.4,710.2 841.6,709.6 841.9,710.7 842.1,708.2 842.4,710.7 842.6,704.9 842.9,702.1 843.1,705.2 843.4,711.3 843.6,709.9 843.9,708.3 844.1,710.7 844.4,712.7 844.6,709.9 844.9,709.7 845.1,712.3 845.4,711.3 845.6,710.9 845.9,711.4 846.1,712.7 846.4,712.7 846.6,709.1 846.9,709.9 847.1,709.2 847.4,707.6 847.6,711.6 847.9,712.5 848.1,711.0 848.4,713.2 848.6,711.2 848.9,712.8 849.1,711.9 849.4,711.5 849.6,711.9 849.9,710.6 850.1,712.4 850.4,710.5 850.6,711.7 850.9,709.9 851.1,709.8 851.4,711.0 851.6,711.5 851.9,713.1 852.1,711.4 852.4,712.0 852.6,711.8 852.9,714.1 853.1,711.6 853.4,709.9 853.6,709.3 853.9,709.3 854.1,709.1 854.4,708.2 854.6,712.6 854.9,716.3 855.1,714.4 855.4,711.7 855.6,710.5 855.9,710.4 856.1,712.6 856.4,712.8 856.6,711.2 856.9,710.2 857.1,710.2 857.4,711.8 857.6,709.5 857.9,709.9 858.1,712.6 858.4,710.0 858.6,710.6 858.9,713.8 859.1,709.9 859.4,711.9 859.6,709.8 859.9,708.7 860.1,710.5 860.4,710.2 860.6,711.4 860.9,708.3 861.1,710.5 861.4,710.0 861.6,710.4 861.9,709.2 862.1,707.1 862.4,710.0 862.6,709.2 862.9,709.2 863.1,708.8 863.4,708.4 863.6,707.4 863.9,706.1 864.1,706.6 864.4,708.1 864.6,704.5 864.9,706.3 865.1,708.1 865.4,704.8 865.6,706.9 865.9,699.4 866.1,701.2 866.4,698.2 866.6,702.3 866.9,705.6 867.1,701.9 867.4,699.7 867.6,699.1 867.9,701.3 868.1,701.6 868.4,699.6 868.6,697.2 868.9,696.2 869.1,696.2 869.4,695.9 869.6,694.3 869.9,699.2 870.1,699.0 870.4,697.9 870.6,698.8 870.9,693.1 871.1,690.1 871.4,693.9 871.6,693.1 871.9,691.1 872.1,693.8 872.4,691.7 872.6,693.3 872.9,692.9 873.1,690.3 873.4,693.4 873.6,691.6 873.9,694.7 874.1,694.9 874.4,693.9 874.6,697.3 874.9,696.0 875.1,697.3 875.4,697.9 875.6,702.7 875.9,699.4 876.1,698.6 876.4,698.2 876.6,697.3 876.9,700.6 877.1,701.0 877.4,701.4 877.6,704.9 877.9,706.0 878.1,706.7 878.4,706.3 878.6,709.6 878.9,709.2 879.1,708.0 879.4,708.5 879.6,710.4 879.9,708.2 880.1,711.1 880.4,708.3 880.6,706.2 880.9,709.6 881.1,708.1 881.4,709.1 881.6,709.0 881.9,710.5 882.1,707.1 882.4,711.5 882.6,709.9 882.9,711.4 883.1,710.2 883.4,711.6 883.6,714.3 883.9,711.1 884.1,712.7 884.4,711.9 884.6,712.9 884.9,711.3 885.1,711.3 885.4,709.8 885.6,712.8 885.9,711.7 886.1,712.2 886.4,711.0 886.6,714.4 886.9,714.2 887.1,712.8 887.4,713.2 887.6,713.0 887.9,713.8 888.1,710.1 888.4,712.2 888.6,712.3 888.9,713.2 889.1,711.8 889.4,712.5 889.6,712.4 889.9,714.3 890.1,714.1 890.4,715.0 890.6,714.7 890.9,714.4 891.1,712.6 891.4,713.8 891.6,716.4 891.9,716.8 892.1,714.2 892.4,713.2 892.6,713.3 892.9,713.4 893.1,714.0 893.4,713.8 893.6,714.1 893.9,714.8 894.1,714.7 894.4,712.9 894.6,715.5 894.9,713.2 895.1,712.9 895.4,715.2 895.6,714.9 895.9,714.4 896.1,715.6 896.4,714.7 896.6,714.6 896.9,713.2 897.1,715.7 897.4,714.9 897.6,716.0 897.9,714.1 898.1,715.8 898.4,714.8 898.6,716.0 898.9,714.7 899.1,716.0 899.4,713.8 899.6,713.9 899.9,713.9 900.1,715.5 900.4,711.6 900.6,711.5 900.9,713.9 901.1,714.8 901.4,715.2 901.6,716.1 901.9,715.4 902.1,714.5 902.4,713.2 902.6,709.7 902.9,712.9 903.1,712.1 903.4,713.4 903.6,715.2 903.9,715.3 904.1,715.8 904.4,714.7 904.6,715.6 904.9,714.7 905.1,715.5 905.4,714.2 905.6,713.3 905.9,712.7 906.1,713.6 906.4,715.5 906.6,712.2 906.9,713.4 907.1,715.1 907.4,715.9 907.6,715.7 907.9,717.1 908.1,715.7 908.4,714.4 908.6,713.9 908.9,714.7 909.1,715.0 909.4,712.8 909.6,713.9 909.9,713.3 910.1,714.8 910.4,712.6 910.6,712.8 910.9,712.4 911.1,716.8 911.4,715.3 911.6,714.1 911.9,715.1 912.1,712.3 912.4,713.5 912.6,715.5 912.9,713.6 913.1,713.1 913.4,714.4 913.6,714.4 913.9,714.8 914.1,714.5 914.4,713.9 914.6,712.5 914.9,714.0 915.1,714.0 915.4,712.6 915.6,714.7 915.9,714.4 916.1,716.2 916.4,714.7 916.6,714.0 916.9,713.5 917.1,715.8 917.4,715.4 917.6,715.1 917.9,715.4 918.1,712.9 918.4,715.3 918.6,714.5 918.9,714.6 919.1,715.4 919.4,714.8 919.6,712.7 919.9,715.0 920.1,714.0 920.4,715.1 920.6,714.4 920.9,715.2 921.1,714.2 921.4,714.1 921.6,713.7 921.9,715.0 922.1,713.9 922.4,714.0 922.6,716.2 922.9,715.1 923.1,717.1 923.4,714.2 923.6,714.1 923.9,714.5 924.1,715.3 924.4,714.1 924.6,716.5 924.9,713.9 925.1,716.1 925.4,713.9 925.6,714.0 925.9,714.9 926.1,714.5 926.4,714.0 926.6,713.8 926.9,714.3 927.1,714.1 927.4,716.2 927.6,715.4 927.9,715.1 928.1,713.4 928.4,718.2 928.6,716.4 928.9,712.9 929.1,711.8 929.4,711.4 929.6,715.7 929.9,714.7 930.1,713.8 930.4,715.5 930.6,713.8" fill="none" stroke="#000" stroke-width="2.3" stroke-linejoin="round"/>
<line x1="95.4" y1="39.6" x2="95.4" y2="382.9" stroke="#000" stroke-width="2.6"/>
<line x1="94.10000000000001" y1="381.5" x2="997" y2="381.5" stroke="#000" stroke-width="2.9"/>
<line x1="91.3" y1="41.50" x2="95.4" y2="41.50" stroke="#000" stroke-width="2.4"/>
<line x1="88.3" y1="60.70" x2="95.4" y2="60.70" stroke="#000" stroke-width="2.4"/>
<line x1="91.3" y1="79.50" x2="95.4" y2="79.50" stroke="#000" stroke-width="2.4"/>
<line x1="88.3" y1="98.30" x2="95.4" y2="98.30" stroke="#000" stroke-width="2.4"/>
<line x1="91.3" y1="117.70" x2="95.4" y2="117.70" stroke="#000" stroke-width="2.4"/>
<line x1="88.3" y1="135.90" x2="95.4" y2="135.90" stroke="#000" stroke-width="2.4"/>
<line x1="91.3" y1="155.90" x2="95.4" y2="155.90" stroke="#000" stroke-width="2.4"/>
<line x1="88.3" y1="174.60" x2="95.4" y2="174.60" stroke="#000" stroke-width="2.4"/>
<line x1="91.3" y1="193.70" x2="95.4" y2="193.70" stroke="#000" stroke-width="2.4"/>
<line x1="88.3" y1="213.00" x2="95.4" y2="213.00" stroke="#000" stroke-width="2.4"/>
<line x1="91.3" y1="231.60" x2="95.4" y2="231.60" stroke="#000" stroke-width="2.4"/>
<line x1="88.3" y1="250.40" x2="95.4" y2="250.40" stroke="#000" stroke-width="2.4"/>
<line x1="91.3" y1="269.70" x2="95.4" y2="269.70" stroke="#000" stroke-width="2.4"/>
<line x1="88.3" y1="288.50" x2="95.4" y2="288.50" stroke="#000" stroke-width="2.4"/>
<line x1="91.3" y1="308.40" x2="95.4" y2="308.40" stroke="#000" stroke-width="2.4"/>
<line x1="88.3" y1="325.00" x2="95.4" y2="325.00" stroke="#000" stroke-width="2.4"/>
<line x1="91.3" y1="344.40" x2="95.4" y2="344.40" stroke="#000" stroke-width="2.4"/>
<line x1="88.3" y1="362.60" x2="95.4" y2="362.60" stroke="#000" stroke-width="2.4"/>
<line x1="95.4" y1="406.3" x2="95.4" y2="749.4" stroke="#000" stroke-width="2.6"/>
<line x1="94.10000000000001" y1="748.0" x2="997" y2="748.0" stroke="#000" stroke-width="2.9"/>
<line x1="91.3" y1="407.50" x2="95.4" y2="407.50" stroke="#000" stroke-width="2.4"/>
<line x1="88.3" y1="437.10" x2="95.4" y2="437.10" stroke="#000" stroke-width="2.4"/>
<line x1="91.3" y1="465.00" x2="95.4" y2="465.00" stroke="#000" stroke-width="2.4"/>
<line x1="88.3" y1="492.10" x2="95.4" y2="492.10" stroke="#000" stroke-width="2.4"/>
<line x1="91.3" y1="521.70" x2="95.4" y2="521.70" stroke="#000" stroke-width="2.4"/>
<line x1="88.3" y1="548.90" x2="95.4" y2="548.90" stroke="#000" stroke-width="2.4"/>
<line x1="91.3" y1="578.60" x2="95.4" y2="578.60" stroke="#000" stroke-width="2.4"/>
<line x1="88.3" y1="606.30" x2="95.4" y2="606.30" stroke="#000" stroke-width="2.4"/>
<line x1="91.3" y1="635.90" x2="95.4" y2="635.90" stroke="#000" stroke-width="2.4"/>
<line x1="88.3" y1="663.20" x2="95.4" y2="663.20" stroke="#000" stroke-width="2.4"/>
<line x1="91.3" y1="690.90" x2="95.4" y2="690.90" stroke="#000" stroke-width="2.4"/>
<line x1="88.3" y1="720.50" x2="95.4" y2="720.50" stroke="#000" stroke-width="2.4"/>
<line x1="95.35" y1="381.5" x2="95.35" y2="388.0" stroke="#000" stroke-width="2.4"/>
<line x1="95.35" y1="748.0" x2="95.35" y2="754.0" stroke="#000" stroke-width="2.4"/>
<line x1="159.60" y1="381.5" x2="159.60" y2="391.2" stroke="#000" stroke-width="2.4"/>
<line x1="159.60" y1="748.0" x2="159.60" y2="759.5" stroke="#000" stroke-width="2.4"/>
<line x1="223.85" y1="381.5" x2="223.85" y2="388.0" stroke="#000" stroke-width="2.4"/>
<line x1="223.85" y1="748.0" x2="223.85" y2="754.0" stroke="#000" stroke-width="2.4"/>
<line x1="288.10" y1="381.5" x2="288.10" y2="391.2" stroke="#000" stroke-width="2.4"/>
<line x1="288.10" y1="748.0" x2="288.10" y2="759.5" stroke="#000" stroke-width="2.4"/>
<line x1="352.35" y1="381.5" x2="352.35" y2="388.0" stroke="#000" stroke-width="2.4"/>
<line x1="352.35" y1="748.0" x2="352.35" y2="754.0" stroke="#000" stroke-width="2.4"/>
<line x1="416.60" y1="381.5" x2="416.60" y2="391.2" stroke="#000" stroke-width="2.4"/>
<line x1="416.60" y1="748.0" x2="416.60" y2="759.5" stroke="#000" stroke-width="2.4"/>
<line x1="480.85" y1="381.5" x2="480.85" y2="388.0" stroke="#000" stroke-width="2.4"/>
<line x1="480.85" y1="748.0" x2="480.85" y2="754.0" stroke="#000" stroke-width="2.4"/>
<line x1="545.10" y1="381.5" x2="545.10" y2="391.2" stroke="#000" stroke-width="2.4"/>
<line x1="545.10" y1="748.0" x2="545.10" y2="759.5" stroke="#000" stroke-width="2.4"/>
<line x1="609.35" y1="381.5" x2="609.35" y2="388.0" stroke="#000" stroke-width="2.4"/>
<line x1="609.35" y1="748.0" x2="609.35" y2="754.0" stroke="#000" stroke-width="2.4"/>
<line x1="673.60" y1="381.5" x2="673.60" y2="391.2" stroke="#000" stroke-width="2.4"/>
<line x1="673.60" y1="748.0" x2="673.60" y2="759.5" stroke="#000" stroke-width="2.4"/>
<line x1="737.85" y1="381.5" x2="737.85" y2="388.0" stroke="#000" stroke-width="2.4"/>
<line x1="737.85" y1="748.0" x2="737.85" y2="754.0" stroke="#000" stroke-width="2.4"/>
<line x1="802.10" y1="381.5" x2="802.10" y2="391.2" stroke="#000" stroke-width="2.4"/>
<line x1="802.10" y1="748.0" x2="802.10" y2="759.5" stroke="#000" stroke-width="2.4"/>
<line x1="866.35" y1="381.5" x2="866.35" y2="388.0" stroke="#000" stroke-width="2.4"/>
<line x1="866.35" y1="748.0" x2="866.35" y2="754.0" stroke="#000" stroke-width="2.4"/>
<line x1="930.60" y1="381.5" x2="930.60" y2="391.2" stroke="#000" stroke-width="2.4"/>
<line x1="930.60" y1="748.0" x2="930.60" y2="759.5" stroke="#000" stroke-width="2.4"/>
<line x1="994.85" y1="381.5" x2="994.85" y2="388.0" stroke="#000" stroke-width="2.4"/>
<line x1="994.85" y1="748.0" x2="994.85" y2="754.0" stroke="#000" stroke-width="2.4"/>
<text transform="translate(28.36,68.99) scale(0.9241,1.1736)" font-size="26" letter-spacing="1.840" fill="#000">1600</text>
<text transform="translate(28.36,106.59) scale(0.9241,1.1736)" font-size="26" letter-spacing="1.840" fill="#000">1400</text>
<text transform="translate(28.36,144.89) scale(0.9241,1.1736)" font-size="26" letter-spacing="1.840" fill="#000">1200</text>
<text transform="translate(28.36,182.99) scale(0.9241,1.1736)" font-size="26" letter-spacing="1.840" fill="#000">1000</text>
<text transform="translate(42.08,220.79) scale(0.9241,1.1736)" font-size="26" letter-spacing="1.840" fill="#000">800</text>
<text transform="translate(42.08,258.99) scale(0.9241,1.1736)" font-size="26" letter-spacing="1.840" fill="#000">600</text>
<text transform="translate(42.08,296.79) scale(0.9241,1.1736)" font-size="26" letter-spacing="1.840" fill="#000">400</text>
<text transform="translate(42.08,334.59) scale(0.9241,1.1736)" font-size="26" letter-spacing="1.840" fill="#000">200</text>
<text transform="translate(69.50,372.69) scale(0.9241,1.1736)" font-size="26" letter-spacing="1.840" fill="#000">0</text>
<text transform="translate(28.36,445.59) scale(0.9241,1.1736)" font-size="26" letter-spacing="1.840" fill="#000">1000</text>
<text transform="translate(42.08,501.99) scale(0.9241,1.1736)" font-size="26" letter-spacing="1.840" fill="#000">800</text>
<text transform="translate(42.08,557.19) scale(0.9241,1.1736)" font-size="26" letter-spacing="1.840" fill="#000">600</text>
<text transform="translate(42.08,614.39) scale(0.9241,1.1736)" font-size="26" letter-spacing="1.840" fill="#000">400</text>
<text transform="translate(42.08,671.69) scale(0.9241,1.1736)" font-size="26" letter-spacing="1.840" fill="#000">200</text>
<text transform="translate(69.50,728.89) scale(0.9241,1.1736)" font-size="26" letter-spacing="1.840" fill="#000">0</text>
<text transform="translate(146.89,790.80) scale(0.9241,1.1736)" font-size="26" letter-spacing="1.840" fill="#000">20</text>
<text transform="translate(275.44,790.80) scale(0.9241,1.1736)" font-size="26" letter-spacing="1.840" fill="#000">30</text>
<text transform="translate(404.23,790.80) scale(0.9241,1.1736)" font-size="26" letter-spacing="1.840" fill="#000">40</text>
<text transform="translate(532.41,790.80) scale(0.9241,1.1736)" font-size="26" letter-spacing="1.840" fill="#000">50</text>
<text transform="translate(660.98,790.80) scale(0.9241,1.1736)" font-size="26" letter-spacing="1.840" fill="#000">60</text>
<text transform="translate(789.21,790.80) scale(0.9241,1.1736)" font-size="26" letter-spacing="1.840" fill="#000">70</text>
<text transform="translate(918.00,790.80) scale(0.9241,1.1736)" font-size="26" letter-spacing="1.840" fill="#000">80</text>
<text transform="translate(483.90,828.60) scale(0.9174,1.1620)" font-size="26" fill="#000">2</text>
<text transform="translate(499.92,828.60) scale(0.9122,1.1620)" font-size="26" fill="#000">θ</text>
<text transform="translate(518.05,828.60) scale(0.9149,1.1620)" font-size="26" letter-spacing="1.419" fill="#000">(degree)</text>
<text transform="translate(19.17,474.44) rotate(-90) scale(1.3071,0.9682)" font-size="26" letter-spacing="-0.224" fill="#000">Intensity (a.u.)</text>
<rect x="721.6" y="59.4" width="270.0" height="39.3" fill="#fff" stroke="#505050" stroke-width="2.1"/>
<line x1="729.6" y1="83" x2="773.8" y2="83" stroke="#ff0000" stroke-width="3.0"/>
<text transform="translate(777.57,90.70) scale(0.9515,1.2085)" font-size="26" letter-spacing="0.903" fill="#000">3% Ni doped CuO</text>
<rect x="815.8" y="429.2" width="176.0" height="39.9" fill="#fff" stroke="#454545" stroke-width="2.1"/>
<line x1="823.5" y1="452.5" x2="868.2" y2="452.5" stroke="#000" stroke-width="2.7"/>
<text transform="translate(872.79,460.80) scale(0.9287,1.1794)" font-size="26" letter-spacing="1.123" fill="#000">Pure CuO</text>
<text style="font-weight:normal" transform="translate(329.59,241.85) rotate(-90) scale(1.4975,0.9414)" font-size="26" fill="#000">)</text>
<text style="font-weight:normal" transform="translate(329.59,300.61) rotate(-90) scale(1.4975,0.9414)" font-size="26" fill="#000">(</text>
<text transform="translate(329.59,290.06) rotate(-90) scale(1.1805,0.9414)" font-size="26" fill="#000">1</text>
<text transform="translate(329.59,273.11) rotate(-90) scale(1.1805,0.9414)" font-size="26" fill="#000">1</text>
<text transform="translate(329.59,254.76) rotate(-90) scale(1.0708,0.9414)" font-size="26" fill="#000">0</text>
<text style="font-weight:normal" transform="translate(371.30,13.75) rotate(-90) scale(1.4975,0.9032)" font-size="26" fill="#000">)</text>
<text style="font-weight:normal" transform="translate(371.30,72.81) rotate(-90) scale(1.4975,0.9032)" font-size="26" fill="#000">(</text>
<text transform="translate(371.30,62.26) rotate(-90) scale(1.1805,0.9032)" font-size="26" fill="#000">1</text>
<text transform="translate(371.30,44.91) rotate(-90) scale(1.1805,0.9032)" font-size="26" fill="#000">1</text>
<text transform="translate(371.30,27.56) rotate(-90) scale(1.1805,0.9032)" font-size="26" fill="#000">1</text>
<line x1="348.3" y1="44" x2="348.3" y2="68.3" stroke="#222" stroke-width="1.4"/>
<text style="font-weight:normal" transform="translate(408.10,36.05) rotate(-90) scale(1.4975,0.9032)" font-size="26" fill="#000">)</text>
<text style="font-weight:normal" transform="translate(408.10,94.41) rotate(-90) scale(1.4975,0.9032)" font-size="26" fill="#000">(</text>
<text transform="translate(408.10,83.86) rotate(-90) scale(1.1805,0.9032)" font-size="26" fill="#000">1</text>
<text transform="translate(408.10,66.86) rotate(-90) scale(1.1805,0.9032)" font-size="26" fill="#000">1</text>
<text transform="translate(408.10,49.86) rotate(-90) scale(1.1805,0.9032)" font-size="26" fill="#000">1</text>
<text style="font-weight:normal" transform="translate(544.46,261.75) rotate(-90) scale(1.4975,0.8735)" font-size="26" fill="#000">)</text>
<text style="font-weight:normal" transform="translate(544.46,321.41) rotate(-90) scale(1.4975,0.8735)" font-size="26" fill="#000">(</text>
<text transform="translate(544.46,309.59) rotate(-90) scale(1.0935,0.8735)" font-size="26" fill="#000">2</text>
<text transform="translate(544.46,292.06) rotate(-90) scale(1.0708,0.8735)" font-size="26" fill="#000">0</text>
<text transform="translate(544.46,274.79) rotate(-90) scale(1.0935,0.8735)" font-size="26" fill="#000">2</text>
<line x1="521.8" y1="295" x2="521.8" y2="314.2" stroke="#222" stroke-width="1.4"/>
<text style="font-weight:normal" transform="translate(598.64,255.35) rotate(-90) scale(1.4975,0.8778)" font-size="26" fill="#000">)</text>
<text style="font-weight:normal" transform="translate(598.64,314.41) rotate(-90) scale(1.4975,0.8778)" font-size="26" fill="#000">(</text>
<text transform="translate(598.64,302.46) rotate(-90) scale(1.0708,0.8778)" font-size="26" fill="#000">0</text>
<text transform="translate(598.64,285.49) rotate(-90) scale(1.0935,0.8778)" font-size="26" fill="#000">2</text>
<text transform="translate(598.64,268.26) rotate(-90) scale(1.0708,0.8778)" font-size="26" fill="#000">0</text>
<text style="font-weight:normal" transform="translate(661.88,269.75) rotate(-90) scale(1.4975,0.8523)" font-size="26" fill="#000">)</text>
<text style="font-weight:normal" transform="translate(661.88,328.41) rotate(-90) scale(1.4975,0.8523)" font-size="26" fill="#000">(</text>
<text transform="translate(661.88,316.59) rotate(-90) scale(1.0935,0.8523)" font-size="26" fill="#000">2</text>
<text transform="translate(661.88,299.56) rotate(-90) scale(1.0708,0.8523)" font-size="26" fill="#000">0</text>
<text transform="translate(661.88,282.79) rotate(-90) scale(1.0935,0.8523)" font-size="26" fill="#000">2</text>
<text style="font-weight:normal" transform="translate(705.29,262.75) rotate(-90) scale(1.4975,0.8693)" font-size="26" fill="#000">)</text>
<text style="font-weight:normal" transform="translate(705.29,321.41) rotate(-90) scale(1.4975,0.8693)" font-size="26" fill="#000">(</text>
<text transform="translate(705.29,310.86) rotate(-90) scale(1.1805,0.8693)" font-size="26" fill="#000">1</text>
<text transform="translate(705.29,293.96) rotate(-90) scale(1.1805,0.8693)" font-size="26" fill="#000">1</text>
<text transform="translate(705.29,275.64) rotate(-90) scale(1.0598,0.8693)" font-size="26" fill="#000">3</text>
<line x1="685.7" y1="293.1" x2="685.7" y2="311.2" stroke="#222" stroke-width="1.4"/>
<text style="font-weight:normal" transform="translate(759.81,242.15) rotate(-90) scale(1.4975,0.9372)" font-size="26" fill="#000">)</text>
<text style="font-weight:normal" transform="translate(759.81,302.31) rotate(-90) scale(1.4975,0.9372)" font-size="26" fill="#000">(</text>
<text transform="translate(759.81,290.34) rotate(-90) scale(1.0598,0.9372)" font-size="26" fill="#000">3</text>
<text transform="translate(759.81,273.61) rotate(-90) scale(1.1805,0.9372)" font-size="26" fill="#000">1</text>
<text transform="translate(759.81,255.96) rotate(-90) scale(1.1805,0.9372)" font-size="26" fill="#000">1</text>
<line x1="737.2" y1="272.5" x2="737.2" y2="292.1" stroke="#222" stroke-width="1.4"/>
<text style="font-weight:normal" transform="translate(788.28,238.35) rotate(-90) scale(1.4975,0.9244)" font-size="26" fill="#000">)</text>
<text style="font-weight:normal" transform="translate(788.28,297.01) rotate(-90) scale(1.4975,0.9244)" font-size="26" fill="#000">(</text>
<text transform="translate(788.28,285.19) rotate(-90) scale(1.0935,0.9244)" font-size="26" fill="#000">2</text>
<text transform="translate(788.28,268.29) rotate(-90) scale(1.0935,0.9244)" font-size="26" fill="#000">2</text>
<text transform="translate(788.28,251.26) rotate(-90) scale(1.0708,0.9244)" font-size="26" fill="#000">0</text>
<text style="font-weight:normal" transform="translate(841.37,275.75) rotate(-90) scale(1.4975,0.9075)" font-size="26" fill="#000">)</text>
<text style="font-weight:normal" transform="translate(841.37,335.01) rotate(-90) scale(1.4975,0.9075)" font-size="26" fill="#000">(</text>
<text transform="translate(841.37,323.04) rotate(-90) scale(1.0598,0.9075)" font-size="26" fill="#000">3</text>
<text transform="translate(841.37,306.76) rotate(-90) scale(1.1805,0.9075)" font-size="26" fill="#000">1</text>
<text transform="translate(841.37,289.56) rotate(-90) scale(1.1805,0.9075)" font-size="26" fill="#000">1</text>
<text style="font-weight:normal" transform="translate(878.25,270.15) rotate(-90) scale(1.4975,0.9117)" font-size="26" fill="#000">)</text>
<text style="font-weight:normal" transform="translate(878.25,329.01) rotate(-90) scale(1.4975,0.9117)" font-size="26" fill="#000">(</text>
<text transform="translate(878.25,317.06) rotate(-90) scale(1.0708,0.9117)" font-size="26" fill="#000">0</text>
<text transform="translate(878.25,300.06) rotate(-90) scale(1.0708,0.9117)" font-size="26" fill="#000">0</text>
<text transform="translate(878.25,282.34) rotate(-90) scale(0.9702,0.9117)" font-size="26" fill="#000">4</text>
</svg></body></html>
